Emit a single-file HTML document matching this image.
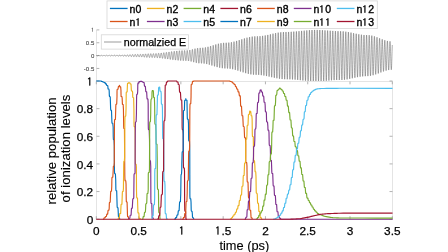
<!DOCTYPE html><html><head><meta charset="utf-8"><style>
html,body{margin:0;padding:0;background:#fff;overflow:hidden}
svg{display:block}
text{font-family:"Liberation Sans", Arial, Helvetica, sans-serif;fill:#000;stroke:#000;stroke-width:0.25px}
</style></head><body>
<svg width="448" height="252" viewBox="0 0 448 252">
<rect width="448" height="252" fill="#fff"/>
<g>
<line x1="96.5" y1="29.90" x2="96.5" y2="81.40" stroke="#e4e4e4" stroke-width="1"/>
<line x1="96.60" y1="29.90" x2="99.30" y2="29.90" stroke="#a0a0a0" stroke-width="0.8"/>
<line x1="96.60" y1="42.75" x2="99.30" y2="42.75" stroke="#a0a0a0" stroke-width="0.8"/>
<line x1="96.60" y1="55.60" x2="99.30" y2="55.60" stroke="#a0a0a0" stroke-width="0.8"/>
<line x1="96.60" y1="68.45" x2="99.30" y2="68.45" stroke="#a0a0a0" stroke-width="0.8"/>
<line x1="96.60" y1="81.30" x2="99.30" y2="81.30" stroke="#a0a0a0" stroke-width="0.8"/>
<polyline fill="none" stroke="#555555" stroke-width="0.48" points="96.30,55.40 96.37,55.41 96.45,55.43 96.52,55.45 96.60,55.48 96.67,55.51 96.74,55.55 96.82,55.58 96.89,55.62 96.97,55.66 97.04,55.69 97.11,55.72 97.19,55.75 97.26,55.77 97.34,55.79 97.41,55.80 97.48,55.81 97.56,55.81 97.63,55.80 97.71,55.78 97.78,55.76 97.85,55.74 97.93,55.71 98.00,55.67 98.08,55.64 98.15,55.60 98.22,55.56 98.30,55.53 98.37,55.49 98.45,55.46 98.52,55.43 98.59,55.41 98.67,55.40 98.74,55.39 98.82,55.38 98.89,55.39 98.96,55.40 99.04,55.42 99.11,55.44 99.19,55.47 99.26,55.50 99.33,55.54 99.41,55.58 99.48,55.62 99.56,55.66 99.63,55.69 99.70,55.73 99.78,55.76 99.85,55.79 99.93,55.81 100.00,55.82 100.07,55.83 100.15,55.83 100.22,55.82 100.30,55.81 100.37,55.78 100.44,55.76 100.52,55.72 100.59,55.69 100.67,55.65 100.74,55.61 100.81,55.56 100.89,55.52 100.96,55.48 101.04,55.45 101.11,55.41 101.18,55.39 101.26,55.37 101.33,55.36 101.41,55.35 101.48,55.36 101.55,55.37 101.63,55.39 101.70,55.41 101.78,55.44 101.85,55.48 101.92,55.52 102.00,55.57 102.07,55.61 102.15,55.66 102.22,55.70 102.29,55.75 102.37,55.78 102.44,55.82 102.52,55.84 102.59,55.86 102.66,55.87 102.74,55.87 102.81,55.86 102.89,55.85 102.96,55.82 103.03,55.79 103.11,55.75 103.18,55.71 103.26,55.66 103.33,55.61 103.40,55.56 103.48,55.51 103.55,55.46 103.63,55.42 103.70,55.38 103.77,55.35 103.85,55.33 103.92,55.31 104.00,55.30 104.07,55.31 104.14,55.32 104.22,55.34 104.29,55.37 104.37,55.41 104.44,55.45 104.51,55.50 104.59,55.55 104.66,55.61 104.74,55.66 104.81,55.72 104.88,55.77 104.96,55.82 105.03,55.86 105.11,55.89 105.18,55.91 105.25,55.92 105.33,55.93 105.40,55.92 105.48,55.90 105.55,55.87 105.62,55.84 105.70,55.79 105.77,55.74 105.85,55.68 105.92,55.62 105.99,55.56 106.07,55.50 106.14,55.44 106.22,55.39 106.29,55.34 106.36,55.30 106.44,55.27 106.51,55.25 106.59,55.24 106.66,55.24 106.73,55.25 106.81,55.28 106.88,55.31 106.96,55.36 107.03,55.41 107.10,55.47 107.18,55.53 107.25,55.60 107.33,55.67 107.40,55.74 107.47,55.80 107.55,55.85 107.62,55.90 107.70,55.94 107.77,55.97 107.84,55.99 107.92,55.99 107.99,55.99 108.07,55.97 108.14,55.94 108.21,55.89 108.29,55.84 108.36,55.78 108.44,55.71 108.51,55.64 108.58,55.57 108.66,55.49 108.73,55.42 108.81,55.36 108.88,55.30 108.95,55.25 109.03,55.21 109.10,55.18 109.18,55.17 109.25,55.17 109.32,55.19 109.40,55.21 109.47,55.25 109.55,55.31 109.62,55.37 109.69,55.44 109.77,55.51 109.84,55.59 109.92,55.67 109.99,55.75 110.06,55.82 110.14,55.89 110.21,55.95 110.29,56.00 110.36,56.03 110.43,56.06 110.51,56.06 110.58,56.06 110.66,56.04 110.73,56.00 110.80,55.95 110.88,55.89 110.95,55.82 111.03,55.74 111.10,55.66 111.17,55.57 111.25,55.49 111.32,55.40 111.40,55.33 111.47,55.26 111.54,55.20 111.62,55.15 111.69,55.12 111.77,55.10 111.84,55.10 111.91,55.12 111.99,55.15 112.06,55.19 112.14,55.25 112.21,55.32 112.28,55.40 112.36,55.49 112.43,55.58 112.51,55.67 112.58,55.76 112.65,55.85 112.73,55.92 112.80,55.99 112.88,56.05 112.95,56.09 113.02,56.12 113.10,56.13 113.17,56.12 113.25,56.10 113.32,56.06 113.39,56.01 113.47,55.94 113.54,55.86 113.62,55.77 113.69,55.68 113.76,55.58 113.84,55.48 113.91,55.39 113.99,55.30 114.06,55.22 114.13,55.16 114.21,55.10 114.28,55.07 114.36,55.04 114.43,55.04 114.50,55.06 114.58,55.09 114.65,55.14 114.73,55.20 114.80,55.28 114.87,55.36 114.95,55.46 115.02,55.56 115.10,55.66 115.17,55.76 115.24,55.86 115.32,55.95 115.39,56.03 115.47,56.09 115.54,56.14 115.61,56.17 115.69,56.18 115.76,56.18 115.84,56.16 115.91,56.11 115.98,56.06 116.06,55.98 116.13,55.90 116.21,55.80 116.28,55.70 116.35,55.59 116.43,55.49 116.50,55.38 116.58,55.29 116.65,55.20 116.72,55.13 116.80,55.07 116.87,55.02 116.95,55.00 117.02,54.99 117.09,55.01 117.17,55.04 117.24,55.09 117.32,55.16 117.39,55.24 117.46,55.33 117.54,55.44 117.61,55.54 117.69,55.65 117.76,55.76 117.83,55.87 117.91,55.96 117.98,56.05 118.06,56.12 118.13,56.17 118.20,56.21 118.28,56.22 118.35,56.22 118.43,56.20 118.50,56.15 118.57,56.09 118.65,56.02 118.72,55.93 118.80,55.83 118.87,55.72 118.94,55.61 119.02,55.50 119.09,55.39 119.17,55.28 119.24,55.19 119.31,55.11 119.39,55.05 119.46,55.00 119.54,54.97 119.61,54.96 119.68,54.98 119.76,55.01 119.83,55.06 119.91,55.13 119.98,55.21 120.05,55.31 120.13,55.41 120.20,55.53 120.28,55.64 120.35,55.75 120.42,55.86 120.50,55.96 120.57,56.05 120.65,56.12 120.72,56.18 120.79,56.22 120.87,56.24 120.94,56.24 121.02,56.22 121.09,56.18 121.16,56.12 121.24,56.04 121.31,55.95 121.39,55.85 121.46,55.74 121.53,55.62 121.61,55.51 121.68,55.40 121.76,55.29 121.83,55.20 121.90,55.11 121.98,55.05 122.05,55.00 122.13,54.97 122.20,54.96 122.27,54.97 122.35,55.00 122.42,55.05 122.50,55.11 122.57,55.19 122.64,55.29 122.72,55.40 122.79,55.51 122.87,55.63 122.94,55.74 123.01,55.85 123.09,55.96 123.16,56.05 123.24,56.13 123.31,56.19 123.38,56.23 123.46,56.26 123.53,56.26 123.61,56.24 123.68,56.20 123.75,56.14 123.83,56.07 123.90,55.98 123.98,55.87 124.05,55.76 124.12,55.64 124.20,55.52 124.27,55.40 124.35,55.29 124.42,55.19 124.49,55.09 124.57,55.02 124.64,54.96 124.72,54.92 124.79,54.91 124.86,54.91 124.94,54.94 125.01,54.99 125.09,55.06 125.16,55.14 125.23,55.25 125.31,55.36 125.38,55.48 125.46,55.61 125.53,55.74 125.60,55.86 125.68,55.98 125.75,56.09 125.83,56.18 125.90,56.25 125.97,56.31 126.05,56.34 126.12,56.35 126.20,56.33 126.27,56.29 126.34,56.23 126.42,56.15 126.49,56.05 126.57,55.93 126.64,55.80 126.71,55.67 126.79,55.53 126.86,55.39 126.94,55.26 127.01,55.14 127.08,55.03 127.16,54.94 127.23,54.87 127.31,54.82 127.38,54.79 127.45,54.80 127.53,54.82 127.60,54.88 127.68,54.95 127.75,55.05 127.82,55.17 127.90,55.30 127.97,55.44 128.05,55.59 128.12,55.74 128.19,55.89 128.27,56.03 128.34,56.16 128.42,56.27 128.49,56.36 128.56,56.43 128.64,56.47 128.71,56.48 128.79,56.47 128.86,56.42 128.93,56.35 129.01,56.26 129.08,56.14 129.16,56.01 129.23,55.86 129.30,55.70 129.38,55.54 129.45,55.37 129.53,55.22 129.60,55.07 129.67,54.94 129.75,54.83 129.82,54.74 129.90,54.68 129.97,54.65 130.04,54.65 130.12,54.68 130.19,54.73 130.27,54.82 130.34,54.94 130.41,55.07 130.49,55.22 130.56,55.39 130.64,55.57 130.71,55.74 130.78,55.92 130.86,56.09 130.93,56.24 131.01,56.37 131.08,56.48 131.15,56.56 131.23,56.61 131.30,56.63 131.38,56.62 131.45,56.57 131.52,56.50 131.60,56.39 131.67,56.26 131.75,56.10 131.82,55.93 131.89,55.74 131.97,55.55 132.04,55.36 132.12,55.18 132.19,55.01 132.26,54.85 132.34,54.72 132.41,54.62 132.49,54.54 132.56,54.50 132.63,54.50 132.71,54.53 132.78,54.59 132.86,54.69 132.93,54.82 133.00,54.97 133.08,55.14 133.15,55.33 133.23,55.53 133.30,55.74 133.37,55.94 133.45,56.13 133.52,56.30 133.60,56.46 133.67,56.59 133.74,56.68 133.82,56.74 133.89,56.77 133.97,56.76 134.04,56.71 134.11,56.63 134.19,56.51 134.26,56.36 134.34,56.19 134.41,56.00 134.48,55.79 134.56,55.58 134.63,55.36 134.71,55.16 134.78,54.96 134.85,54.79 134.93,54.64 135.00,54.52 135.08,54.44 135.15,54.39 135.22,54.38 135.30,54.41 135.37,54.48 135.45,54.58 135.52,54.72 135.59,54.88 135.67,55.07 135.74,55.28 135.82,55.50 135.89,55.72 135.96,55.94 136.04,56.15 136.11,56.34 136.19,56.51 136.26,56.65 136.33,56.76 136.41,56.83 136.48,56.86 136.56,56.85 136.63,56.80 136.70,56.71 136.78,56.59 136.85,56.44 136.93,56.25 137.00,56.05 137.07,55.83 137.15,55.61 137.22,55.38 137.30,55.16 137.37,54.95 137.44,54.77 137.52,54.61 137.59,54.48 137.67,54.39 137.74,54.33 137.81,54.32 137.89,54.35 137.96,54.41 138.04,54.52 138.11,54.66 138.18,54.83 138.26,55.03 138.33,55.24 138.41,55.46 138.48,55.69 138.55,55.92 138.63,56.14 138.70,56.34 138.78,56.51 138.85,56.66 138.92,56.77 139.00,56.85 139.07,56.88 139.15,56.88 139.22,56.84 139.29,56.75 139.37,56.63 139.44,56.48 139.52,56.29 139.59,56.09 139.66,55.87 139.74,55.64 139.81,55.41 139.89,55.18 139.96,54.97 140.03,54.77 140.11,54.60 140.18,54.46 140.26,54.36 140.33,54.30 140.40,54.28 140.48,54.30 140.55,54.36 140.63,54.46 140.70,54.60 140.77,54.77 140.85,54.97 140.92,55.19 141.00,55.42 141.07,55.67 141.14,55.91 141.22,56.14 141.29,56.35 141.37,56.55 141.44,56.71 141.51,56.84 141.59,56.93 141.66,56.98 141.74,56.99 141.81,56.95 141.88,56.86 141.96,56.74 142.03,56.58 142.11,56.39 142.18,56.17 142.25,55.93 142.33,55.68 142.40,55.42 142.48,55.17 142.55,54.93 142.62,54.71 142.70,54.51 142.77,54.35 142.85,54.23 142.92,54.15 142.99,54.12 143.07,54.13 143.14,54.19 143.22,54.30 143.29,54.45 143.36,54.64 143.44,54.86 143.51,55.10 143.59,55.36 143.66,55.64 143.73,55.91 143.81,56.18 143.88,56.43 143.96,56.65 144.03,56.84 144.10,57.00 144.18,57.11 144.25,57.17 144.33,57.19 144.40,57.15 144.47,57.06 144.55,56.93 144.62,56.75 144.70,56.53 144.77,56.29 144.84,56.01 144.92,55.73 144.99,55.43 145.07,55.14 145.14,54.86 145.21,54.61 145.29,54.38 145.36,54.19 145.44,54.05 145.51,53.95 145.58,53.90 145.66,53.91 145.73,53.98 145.81,54.09 145.88,54.26 145.95,54.47 146.03,54.71 146.10,54.99 146.18,55.29 146.25,55.60 146.32,55.91 146.40,56.22 146.47,56.50 146.55,56.76 146.62,56.99 146.69,57.17 146.77,57.30 146.84,57.38 146.92,57.40 146.99,57.36 147.06,57.27 147.14,57.12 147.21,56.92 147.29,56.69 147.36,56.41 147.43,56.11 147.51,55.79 147.58,55.46 147.66,55.13 147.73,54.82 147.80,54.53 147.88,54.28 147.95,54.06 148.03,53.90 148.10,53.79 148.17,53.73 148.25,53.74 148.32,53.80 148.40,53.93 148.47,54.10 148.54,54.33 148.62,54.59 148.69,54.89 148.77,55.22 148.84,55.55 148.91,55.89 148.99,56.22 149.06,56.53 149.14,56.82 149.21,57.06 149.28,57.26 149.36,57.40 149.43,57.49 149.51,57.52 149.58,57.48 149.65,57.39 149.73,57.24 149.80,57.03 149.88,56.78 149.95,56.49 150.02,56.18 150.10,55.84 150.17,55.50 150.25,55.16 150.32,54.83 150.39,54.53 150.47,54.26 150.54,54.04 150.62,53.86 150.69,53.74 150.76,53.68 150.84,53.68 150.91,53.74 150.99,53.86 151.06,54.04 151.13,54.26 151.21,54.53 151.28,54.84 151.36,55.16 151.43,55.51 151.50,55.85 151.58,56.19 151.65,56.51 151.73,56.80 151.80,57.05 151.87,57.26 151.95,57.41 152.02,57.51 152.10,57.54 152.17,57.52 152.24,57.43 152.32,57.29 152.39,57.09 152.47,56.84 152.54,56.55 152.61,56.23 152.69,55.89 152.76,55.54 152.84,55.19 152.91,54.86 152.98,54.55 153.06,54.26 153.13,54.03 153.21,53.84 153.28,53.70 153.35,53.63 153.43,53.62 153.50,53.67 153.58,53.79 153.65,53.96 153.72,54.19 153.80,54.46 153.87,54.77 153.95,55.10 154.02,55.45 154.09,55.81 154.17,56.17 154.24,56.50 154.32,56.81 154.39,57.08 154.46,57.31 154.54,57.48 154.61,57.59 154.69,57.64 154.76,57.62 154.83,57.54 154.91,57.40 154.98,57.20 155.06,56.94 155.13,56.65 155.20,56.31 155.28,55.96 155.35,55.59 155.43,55.22 155.50,54.86 155.57,54.52 155.65,54.22 155.72,53.96 155.80,53.75 155.87,53.59 155.94,53.50 156.02,53.48 156.09,53.53 156.17,53.64 156.24,53.81 156.31,54.05 156.39,54.33 156.46,54.66 156.54,55.01 156.61,55.39 156.68,55.78 156.76,56.16 156.83,56.53 156.91,56.87 156.98,57.17 157.05,57.42 157.13,57.61 157.20,57.75 157.28,57.81 157.35,57.80 157.42,57.73 157.50,57.58 157.57,57.37 157.65,57.10 157.72,56.79 157.79,56.43 157.87,56.05 157.94,55.64 158.02,55.24 158.09,54.84 158.16,54.47 158.24,54.13 158.31,53.83 158.39,53.59 158.46,53.42 158.53,53.31 158.61,53.27 158.68,53.31 158.76,53.42 158.83,53.60 158.90,53.85 158.98,54.15 159.05,54.51 159.13,54.90 159.20,55.31 159.27,55.74 159.35,56.16 159.42,56.57 159.50,56.95 159.57,57.29 159.64,57.58 159.72,57.81 159.79,57.96 159.87,58.05 159.94,58.05 160.01,57.98 160.09,57.83 160.16,57.61 160.24,57.32 160.31,56.97 160.38,56.58 160.46,56.16 160.53,55.71 160.61,55.26 160.68,54.81 160.75,54.39 160.83,54.01 160.90,53.67 160.98,53.39 161.05,53.18 161.12,53.05 161.20,53.00 161.27,53.03 161.35,53.14 161.42,53.33 161.49,53.60 161.57,53.93 161.64,54.32 161.72,54.75 161.79,55.21 161.86,55.69 161.94,56.17 162.01,56.63 162.09,57.06 162.16,57.45 162.23,57.78 162.31,58.05 162.38,58.23 162.46,58.34 162.53,58.36 162.60,58.29 162.68,58.13 162.75,57.89 162.83,57.58 162.90,57.20 162.97,56.76 163.05,56.29 163.12,55.79 163.20,55.28 163.27,54.78 163.34,54.30 163.42,53.86 163.49,53.48 163.57,53.16 163.64,52.91 163.71,52.75 163.79,52.68 163.86,52.70 163.94,52.81 164.01,53.02 164.08,53.31 164.16,53.67 164.23,54.10 164.31,54.58 164.38,55.09 164.45,55.63 164.53,56.17 164.60,56.69 164.68,57.18 164.75,57.62 164.82,58.01 164.90,58.31 164.97,58.54 165.05,58.67 165.12,58.70 165.19,58.63 165.27,58.47 165.34,58.21 165.42,57.87 165.49,57.45 165.56,56.98 165.64,56.45 165.71,55.89 165.79,55.32 165.86,54.76 165.93,54.22 166.01,53.72 166.08,53.27 166.16,52.90 166.23,52.61 166.30,52.42 166.38,52.33 166.45,52.34 166.53,52.45 166.60,52.67 166.67,52.98 166.75,53.38 166.82,53.85 166.90,54.38 166.97,54.95 167.04,55.55 167.12,56.15 167.19,56.74 167.27,57.30 167.34,57.80 167.41,58.24 167.49,58.59 167.56,58.86 167.64,59.01 167.71,59.07 167.78,59.01 167.86,58.84 167.93,58.56 168.01,58.19 168.08,57.74 168.15,57.21 168.23,56.63 168.30,56.01 168.38,55.38 168.45,54.75 168.52,54.14 168.60,53.57 168.67,53.07 168.75,52.65 168.82,52.31 168.89,52.08 168.97,51.97 169.04,51.96 169.12,52.08 169.19,52.30 169.26,52.64 169.34,53.07 169.41,53.58 169.49,54.16 169.56,54.80 169.63,55.46 169.71,56.12 169.78,56.78 169.86,57.40 169.93,57.97 170.00,58.46 170.08,58.87 170.15,59.17 170.23,59.36 170.30,59.43 170.37,59.38 170.45,59.21 170.52,58.92 170.60,58.52 170.67,58.03 170.74,57.46 170.82,56.82 170.89,56.15 170.97,55.45 171.04,54.75 171.11,54.08 171.19,53.45 171.26,52.89 171.34,52.41 171.41,52.03 171.48,51.76 171.56,51.61 171.63,51.60 171.71,51.71 171.78,51.94 171.85,52.29 171.93,52.75 172.00,53.31 172.08,53.94 172.15,54.62 172.22,55.34 172.30,56.08 172.37,56.80 172.45,57.48 172.52,58.11 172.59,58.66 172.67,59.12 172.74,59.46 172.82,59.69 172.89,59.78 172.96,59.74 173.04,59.57 173.11,59.27 173.19,58.85 173.26,58.33 173.33,57.71 173.41,57.03 173.48,56.30 173.56,55.54 173.63,54.78 173.70,54.04 173.78,53.35 173.85,52.73 173.93,52.20 174.00,51.77 174.07,51.47 174.15,51.29 174.22,51.26 174.30,51.36 174.37,51.59 174.44,51.96 174.52,52.45 174.59,53.03 174.67,53.71 174.74,54.44 174.81,55.22 174.89,56.01 174.96,56.79 175.04,57.53 175.11,58.22 175.18,58.83 175.26,59.33 175.33,59.72 175.41,59.98 175.48,60.09 175.55,60.07 175.63,59.90 175.70,59.60 175.78,59.16 175.85,58.61 175.92,57.96 176.00,57.24 176.07,56.46 176.15,55.64 176.22,54.83 176.29,54.03 176.37,53.29 176.44,52.61 176.52,52.03 176.59,51.56 176.66,51.22 176.74,51.02 176.81,50.96 176.89,51.05 176.96,51.29 177.03,51.66 177.11,52.16 177.18,52.78 177.26,53.48 177.33,54.26 177.40,55.08 177.48,55.92 177.55,56.75 177.63,57.55 177.70,58.29 177.77,58.94 177.85,59.49 177.92,59.92 178.00,60.21 178.07,60.35 178.14,60.35 178.22,60.19 178.29,59.88 178.37,59.44 178.44,58.87 178.51,58.19 178.59,57.44 178.66,56.62 178.74,55.76 178.81,54.90 178.88,54.06 178.96,53.27 179.03,52.55 179.11,51.92 179.18,51.41 179.25,51.03 179.33,50.80 179.40,50.72 179.48,50.80 179.55,51.03 179.62,51.40 179.70,51.92 179.77,52.55 179.85,53.28 179.92,54.08 179.99,54.94 180.07,55.81 180.14,56.69 180.22,57.53 180.29,58.31 180.36,59.00 180.44,59.59 180.51,60.06 180.59,60.38 180.66,60.54 180.73,60.56 180.81,60.41 180.88,60.11 180.96,59.66 181.03,59.09 181.10,58.40 181.18,57.62 181.25,56.77 181.33,55.89 181.40,55.00 181.47,54.12 181.55,53.29 181.62,52.53 181.70,51.87 181.77,51.33 181.84,50.92 181.92,50.66 181.99,50.56 182.07,50.62 182.14,50.84 182.21,51.21 182.29,51.72 182.36,52.36 182.44,53.10 182.51,53.92 182.58,54.79 182.66,55.70 182.73,56.60 182.81,57.47 182.88,58.28 182.95,59.01 183.03,59.63 183.10,60.12 183.18,60.47 183.25,60.66 183.32,60.69 183.40,60.56 183.47,60.27 183.55,59.83 183.62,59.25 183.69,58.56 183.77,57.78 183.84,56.92 183.92,56.02 183.99,55.11 184.06,54.21 184.14,53.35 184.21,52.57 184.29,51.88 184.36,51.31 184.43,50.88 184.51,50.60 184.58,50.48 184.66,50.52 184.73,50.72 184.80,51.08 184.88,51.58 184.95,52.21 185.03,52.95 185.10,53.78 185.17,54.66 185.25,55.58 185.32,56.49 185.40,57.38 185.47,58.21 185.54,58.95 185.62,59.59 185.69,60.10 185.77,60.47 185.84,60.69 185.91,60.74 185.99,60.62 186.06,60.35 186.14,59.93 186.21,59.37 186.28,58.68 186.36,57.90 186.43,57.05 186.51,56.15 186.58,55.23 186.65,54.32 186.73,53.45 186.80,52.65 186.88,51.94 186.95,51.34 187.02,50.89 187.10,50.58 187.17,50.43 187.25,50.44 187.32,50.62 187.39,50.96 187.47,51.44 187.54,52.07 187.62,52.80 187.69,53.63 187.76,54.52 187.84,55.45 187.91,56.38 187.99,57.30 188.06,58.16 188.13,58.95 188.21,59.63 188.28,60.18 188.36,60.60 188.43,60.85 188.50,60.94 188.58,60.85 188.65,60.60 188.73,60.19 188.80,59.63 188.87,58.94 188.95,58.14 189.02,57.25 189.10,56.31 189.17,55.34 189.24,54.37 189.32,53.44 189.39,52.57 189.47,51.80 189.54,51.14 189.61,50.62 189.69,50.26 189.76,50.06 189.84,50.04 189.91,50.20 189.98,50.54 190.06,51.03 190.13,51.68 190.21,52.45 190.28,53.33 190.35,54.29 190.43,55.30 190.50,56.32 190.58,57.32 190.65,58.28 190.72,59.15 190.80,59.92 190.87,60.55 190.95,61.03 191.02,61.34 191.09,61.47 191.17,61.41 191.24,61.16 191.32,60.74 191.39,60.15 191.46,59.40 191.54,58.53 191.61,57.57 191.69,56.53 191.76,55.45 191.83,54.38 191.91,53.33 191.98,52.35 192.06,51.47 192.13,50.72 192.20,50.11 192.28,49.68 192.35,49.44 192.43,49.39 192.50,49.53 192.57,49.88 192.65,50.41 192.72,51.11 192.80,51.95 192.87,52.92 192.94,53.99 193.02,55.11 193.09,56.25 193.17,57.38 193.24,58.46 193.31,59.46 193.39,60.34 193.46,61.07 193.54,61.63 193.61,62.00 193.68,62.17 193.76,62.13 193.83,61.89 193.91,61.43 193.98,60.79 194.05,59.98 194.13,59.03 194.20,57.95 194.28,56.80 194.35,55.60 194.42,54.39 194.50,53.22 194.57,52.11 194.65,51.11 194.72,50.25 194.79,49.55 194.87,49.05 194.94,48.75 195.02,48.67 195.09,48.81 195.16,49.16 195.24,49.73 195.31,50.49 195.39,51.41 195.46,52.48 195.53,53.64 195.61,54.88 195.68,56.15 195.76,57.40 195.83,58.61 195.90,59.72 195.98,60.71 196.05,61.54 196.13,62.18 196.20,62.61 196.27,62.82 196.35,62.81 196.42,62.56 196.50,62.08 196.57,61.40 196.64,60.53 196.72,59.50 196.79,58.34 196.87,57.08 196.94,55.78 197.01,54.46 197.09,53.18 197.16,51.96 197.24,50.86 197.31,49.91 197.38,49.14 197.46,48.57 197.53,48.22 197.61,48.11 197.68,48.24 197.75,48.60 197.83,49.19 197.90,49.98 197.98,50.96 198.05,52.09 198.12,53.33 198.20,54.65 198.27,56.00 198.35,57.35 198.42,58.64 198.49,59.83 198.57,60.89 198.64,61.79 198.72,62.49 198.79,62.97 198.86,63.22 198.94,63.22 199.01,62.98 199.09,62.50 199.16,61.80 199.23,60.91 199.31,59.84 199.38,58.63 199.46,57.33 199.53,55.97 199.60,54.60 199.68,53.26 199.75,51.99 199.83,50.84 199.90,49.83 199.97,49.01 200.05,48.41 200.12,48.03 200.20,47.89 200.27,48.00 200.34,48.35 200.42,48.94 200.49,49.73 200.57,50.71 200.64,51.85 200.71,53.11 200.79,54.45 200.86,55.82 200.94,57.19 201.01,58.51 201.08,59.74 201.16,60.83 201.23,61.76 201.31,62.50 201.38,63.01 201.45,63.29 201.53,63.32 201.60,63.11 201.68,62.66 201.75,61.98 201.82,61.10 201.90,60.04 201.97,58.84 202.05,57.53 202.12,56.16 202.19,54.77 202.27,53.41 202.34,52.11 202.42,50.93 202.49,49.89 202.56,49.03 202.64,48.38 202.71,47.95 202.79,47.78 202.86,47.85 202.93,48.16 203.01,48.72 203.08,49.50 203.16,50.47 203.23,51.61 203.30,52.88 203.38,54.23 203.45,55.64 203.53,57.04 203.60,58.41 203.67,59.69 203.75,60.83 203.82,61.82 203.90,62.61 203.97,63.18 204.04,63.51 204.12,63.58 204.19,63.40 204.27,62.97 204.34,62.31 204.41,61.43 204.49,60.36 204.56,59.14 204.64,57.79 204.71,56.38 204.78,54.94 204.86,53.51 204.93,52.14 205.01,50.89 205.08,49.77 205.15,48.84 205.23,48.13 205.30,47.65 205.38,47.42 205.45,47.45 205.52,47.74 205.60,48.29 205.67,49.07 205.75,50.06 205.82,51.23 205.89,52.55 205.97,53.96 206.04,55.44 206.12,56.93 206.19,58.37 206.26,59.74 206.34,60.98 206.41,62.05 206.49,62.92 206.56,63.56 206.63,63.95 206.71,64.07 206.78,63.92 206.86,63.51 206.93,62.84 207.00,61.94 207.08,60.83 207.15,59.55 207.23,58.14 207.30,56.64 207.37,55.10 207.45,53.57 207.52,52.10 207.60,50.74 207.67,49.52 207.74,48.50 207.82,47.69 207.89,47.14 207.97,46.85 208.04,46.84 208.11,47.12 208.19,47.66 208.26,48.46 208.34,49.49 208.41,50.73 208.48,52.12 208.56,53.63 208.63,55.21 208.71,56.81 208.78,58.38 208.85,59.87 208.93,61.22 209.00,62.41 209.08,63.38 209.15,64.11 209.22,64.57 209.30,64.74 209.37,64.62 209.45,64.22 209.52,63.53 209.59,62.59 209.67,61.43 209.74,60.07 209.82,58.56 209.89,56.95 209.96,55.28 210.04,53.63 210.11,52.02 210.19,50.52 210.26,49.18 210.33,48.04 210.41,47.13 210.48,46.49 210.56,46.14 210.63,46.09 210.70,46.34 210.78,46.89 210.85,47.72 210.93,48.81 211.00,50.12 211.07,51.61 211.15,53.23 211.22,54.94 211.30,56.68 211.37,58.39 211.44,60.02 211.52,61.52 211.59,62.83 211.67,63.92 211.74,64.75 211.81,65.29 211.89,65.52 211.96,65.44 212.04,65.04 212.11,64.33 212.18,63.35 212.26,62.11 212.33,60.66 212.41,59.04 212.48,57.30 212.55,55.50 212.63,53.70 212.70,51.94 212.78,50.30 212.85,48.82 212.92,47.54 213.00,46.52 213.07,45.79 213.15,45.36 213.22,45.26 213.29,45.50 213.37,46.05 213.44,46.91 213.52,48.06 213.59,49.45 213.66,51.04 213.74,52.79 213.81,54.63 213.89,56.52 213.96,58.38 214.03,60.16 214.11,61.81 214.18,63.26 214.26,64.47 214.33,65.41 214.40,66.03 214.48,66.33 214.55,66.28 214.63,65.89 214.70,65.18 214.77,64.15 214.85,62.84 214.92,61.30 215.00,59.57 215.07,57.70 215.14,55.76 215.22,53.80 215.29,51.90 215.37,50.11 215.44,48.48 215.51,47.07 215.59,45.94 215.66,45.10 215.74,44.60 215.81,44.45 215.88,44.65 215.96,45.21 216.03,46.10 216.11,47.29 216.18,48.76 216.25,50.45 216.33,52.31 216.40,54.29 216.48,56.31 216.55,58.32 216.62,60.25 216.70,62.04 216.77,63.63 216.85,64.96 216.92,66.01 216.99,66.72 217.07,67.08 217.14,67.08 217.22,66.71 217.29,65.98 217.36,64.92 217.44,63.55 217.51,61.93 217.59,60.10 217.66,58.12 217.73,56.05 217.81,53.96 217.88,51.92 217.96,49.99 218.03,48.23 218.10,46.70 218.18,45.44 218.25,44.52 218.33,43.94 218.40,43.73 218.47,43.90 218.55,44.45 218.62,45.35 218.70,46.58 218.77,48.11 218.84,49.88 218.92,51.84 218.99,53.92 219.07,56.07 219.14,58.20 219.21,60.26 219.29,62.17 219.36,63.88 219.44,65.33 219.51,66.48 219.58,67.27 219.66,67.70 219.73,67.74 219.81,67.40 219.88,66.67 219.95,65.60 220.03,64.19 220.10,62.51 220.18,60.61 220.25,58.54 220.32,56.37 220.40,54.17 220.47,52.02 220.55,49.97 220.62,48.10 220.69,46.46 220.77,45.11 220.84,44.09 220.92,43.44 220.99,43.18 221.06,43.31 221.14,43.83 221.21,44.74 221.29,45.99 221.36,47.55 221.43,49.37 221.51,51.39 221.58,53.55 221.66,55.78 221.73,58.01 221.80,60.17 221.88,62.18 221.95,63.99 222.03,65.53 222.10,66.76 222.17,67.63 222.25,68.12 222.32,68.21 222.40,67.90 222.47,67.20 222.54,66.12 222.62,64.71 222.69,63.00 222.77,61.06 222.84,58.93 222.91,56.70 222.99,54.43 223.06,52.20 223.14,50.07 223.21,48.12 223.28,46.40 223.36,44.97 223.43,43.89 223.51,43.17 223.58,42.85 223.65,42.94 223.73,43.43 223.80,44.31 223.88,45.55 223.95,47.12 224.02,48.95 224.10,51.00 224.17,53.20 224.25,55.48 224.32,57.76 224.39,59.97 224.47,62.05 224.54,63.92 224.62,65.52 224.69,66.81 224.76,67.75 224.84,68.29 224.91,68.43 224.99,68.16 225.06,67.49 225.13,66.44 225.21,65.05 225.28,63.35 225.36,61.41 225.43,59.27 225.50,57.03 225.58,54.73 225.65,52.46 225.73,50.30 225.80,48.30 225.87,46.54 225.95,45.06 226.02,43.92 226.10,43.15 226.17,42.78 226.24,42.82 226.32,43.26 226.39,44.10 226.47,45.31 226.54,46.84 226.61,48.65 226.69,50.69 226.76,52.88 226.84,55.16 226.91,57.46 226.98,59.70 227.06,61.81 227.13,63.72 227.21,65.37 227.28,66.71 227.35,67.70 227.43,68.31 227.50,68.51 227.58,68.29 227.65,67.68 227.72,66.67 227.80,65.32 227.87,63.65 227.95,61.72 228.02,59.60 228.09,57.35 228.17,55.04 228.24,52.74 228.32,50.54 228.39,48.49 228.46,46.67 228.54,45.13 228.61,43.92 228.69,43.09 228.76,42.65 228.83,42.63 228.91,43.02 228.98,43.81 229.06,44.98 229.13,46.48 229.20,48.29 229.28,50.32 229.35,52.53 229.43,54.84 229.50,57.18 229.57,59.47 229.65,61.64 229.72,63.62 229.80,65.35 229.87,66.77 229.94,67.83 230.02,68.51 230.09,68.77 230.17,68.62 230.24,68.05 230.31,67.08 230.39,65.74 230.46,64.08 230.54,62.15 230.61,60.00 230.68,57.71 230.76,55.34 230.83,52.98 230.91,50.70 230.98,48.57 231.05,46.67 231.13,45.04 231.20,43.74 231.28,42.83 231.35,42.32 231.42,42.23 231.50,42.57 231.57,43.32 231.65,44.47 231.72,45.97 231.79,47.79 231.87,49.86 231.94,52.12 232.02,54.49 232.09,56.91 232.16,59.28 232.24,61.55 232.31,63.63 232.39,65.46 232.46,66.98 232.53,68.14 232.61,68.90 232.68,69.24 232.76,69.14 232.83,68.61 232.90,67.67 232.98,66.33 233.05,64.66 233.13,62.68 233.20,60.48 233.27,58.12 233.35,55.67 233.42,53.21 233.50,50.82 233.57,48.58 233.64,46.55 233.72,44.81 233.79,43.41 233.87,42.40 233.94,41.80 234.01,41.65 234.09,41.93 234.16,42.66 234.24,43.80 234.31,45.32 234.38,47.17 234.46,49.30 234.53,51.63 234.61,54.10 234.68,56.62 234.75,59.12 234.83,61.51 234.90,63.72 234.98,65.68 235.05,67.31 235.12,68.58 235.20,69.44 235.27,69.86 235.35,69.83 235.42,69.34 235.49,68.41 235.57,67.07 235.64,65.35 235.72,63.33 235.79,61.05 235.86,58.58 235.94,56.02 236.01,53.43 236.09,50.91 236.16,48.53 236.23,46.37 236.31,44.49 236.38,42.97 236.46,41.84 236.53,41.15 236.60,40.92 236.68,41.16 236.75,41.86 236.83,43.00 236.90,44.55 236.97,46.45 237.05,48.65 237.12,51.08 237.20,53.67 237.27,56.32 237.34,58.96 237.42,61.50 237.49,63.85 237.57,65.96 237.64,67.73 237.71,69.13 237.79,70.10 237.86,70.60 237.94,70.63 238.01,70.18 238.08,69.26 238.16,67.91 238.23,66.15 238.31,64.06 238.38,61.68 238.45,59.11 238.53,56.41 238.60,53.68 238.68,51.01 238.75,48.47 238.82,46.15 238.90,44.12 238.97,42.46 239.05,41.21 239.12,40.42 239.19,40.11 239.27,40.29 239.34,40.96 239.42,42.11 239.49,43.68 239.56,45.65 239.64,47.93 239.71,50.47 239.79,53.18 239.86,55.98 239.93,58.77 240.01,61.47 240.08,63.99 240.16,66.25 240.23,68.18 240.30,69.71 240.38,70.80 240.45,71.40 240.53,71.50 240.60,71.09 240.67,70.19 240.75,68.82 240.82,67.02 240.90,64.85 240.97,62.38 241.04,59.68 241.12,56.85 241.19,53.96 241.27,51.12 241.34,48.42 241.41,45.94 241.49,43.75 241.56,41.94 241.64,40.56 241.71,39.66 241.78,39.26 241.86,39.39 241.93,40.03 242.01,41.17 242.08,42.78 242.15,44.80 242.23,47.17 242.30,49.82 242.38,52.66 242.45,55.60 242.52,58.55 242.60,61.42 242.67,64.11 242.75,66.53 242.82,68.61 242.89,70.28 242.97,71.49 243.04,72.20 243.12,72.37 243.19,72.01 243.26,71.13 243.34,69.74 243.41,67.91 243.49,65.67 243.56,63.10 243.63,60.29 243.71,57.32 243.78,54.29 243.86,51.29 243.93,48.42 244.00,45.77 244.08,43.43 244.15,41.47 244.23,39.95 244.30,38.94 244.37,38.45 244.45,38.51 244.52,39.11 244.60,40.25 244.67,41.87 244.74,43.94 244.82,46.39 244.89,49.14 244.97,52.10 245.04,55.18 245.11,58.28 245.19,61.31 245.26,64.16 245.34,66.74 245.41,68.97 245.48,70.79 245.56,72.12 245.63,72.93 245.71,73.18 245.78,72.88 245.85,72.02 245.93,70.64 246.00,68.77 246.08,66.48 246.15,63.83 246.22,60.92 246.30,57.83 246.37,54.66 246.45,51.51 246.52,48.48 246.59,45.68 246.67,43.19 246.74,41.08 246.82,39.44 246.89,38.31 246.96,37.73 247.04,37.72 247.11,38.28 247.19,39.39 247.26,41.02 247.33,43.13 247.41,45.63 247.48,48.46 247.56,51.52 247.63,54.72 247.70,57.96 247.78,61.13 247.85,64.12 247.93,66.85 248.00,69.23 248.07,71.17 248.15,72.63 248.22,73.54 248.30,73.88 248.37,73.64 248.44,72.82 248.52,71.45 248.59,69.57 248.67,67.24 248.74,64.53 248.81,61.54 248.89,58.35 248.96,55.07 249.04,51.79 249.11,48.64 249.18,45.70 249.26,43.07 249.33,40.83 249.41,39.07 249.48,37.83 249.55,37.15 249.63,37.07 249.70,37.57 249.78,38.65 249.85,40.27 249.92,42.39 250.00,44.93 250.07,47.82 250.15,50.95 250.22,54.25 250.29,57.59 250.37,60.87 250.44,63.98 250.52,66.84 250.59,69.34 250.66,71.40 250.74,72.97 250.81,73.98 250.89,74.40 250.96,74.23 251.03,73.46 251.11,72.12 251.18,70.25 251.26,67.91 251.33,65.18 251.40,62.13 251.48,58.87 251.55,55.51 251.63,52.14 251.70,48.88 251.77,45.83 251.85,43.09 251.92,40.75 252.00,38.88 252.07,37.53 252.14,36.77 252.22,36.60 252.29,37.04 252.37,38.08 252.44,39.67 252.51,41.77 252.59,44.32 252.66,47.23 252.74,50.41 252.81,53.76 252.88,57.17 252.96,60.53 253.03,63.74 253.11,66.69 253.18,69.29 253.25,71.45 253.33,73.11 253.40,74.21 253.48,74.72 253.55,74.62 253.62,73.91 253.70,72.62 253.77,70.78 253.85,68.46 253.92,65.73 253.99,62.67 254.07,59.38 254.14,55.97 254.22,52.55 254.29,49.22 254.36,46.10 254.44,43.27 254.51,40.84 254.59,38.88 254.66,37.45 254.73,36.60 254.81,36.36 254.88,36.73 254.96,37.70 255.03,39.24 255.10,41.31 255.18,43.83 255.25,46.73 255.33,49.91 255.40,53.28 255.47,56.72 255.55,60.12 255.62,63.38 255.70,66.39 255.77,69.06 255.84,71.30 255.92,73.04 255.99,74.22 256.07,74.81 256.14,74.79 256.21,74.15 256.29,72.92 256.36,71.14 256.44,68.86 256.51,66.16 256.58,63.13 256.66,59.85 256.73,56.44 256.81,53.00 256.88,49.64 256.95,46.47 257.03,43.60 257.10,41.10 257.18,39.07 257.25,37.56 257.32,36.63 257.40,36.31 257.47,36.59 257.55,37.49 257.62,38.96 257.69,40.97 257.77,43.44 257.84,46.30 257.92,49.45 257.99,52.81 258.06,56.25 258.14,59.68 258.21,62.97 258.29,66.04 258.36,68.77 258.43,71.08 258.51,72.90 258.58,74.17 258.66,74.84 258.73,74.91 258.80,74.35 258.88,73.20 258.95,71.49 259.03,69.27 259.10,66.61 259.17,63.60 259.25,60.33 259.32,56.91 259.40,53.45 259.47,50.05 259.54,46.83 259.62,43.88 259.69,41.31 259.77,39.19 259.84,37.59 259.91,36.57 259.99,36.15 260.06,36.36 260.14,37.17 260.21,38.58 260.28,40.53 260.36,42.96 260.43,45.80 260.51,48.95 260.58,52.31 260.65,55.79 260.73,59.26 260.80,62.62 260.88,65.75 260.95,68.57 261.02,70.97 261.10,72.88 261.17,74.25 261.25,75.02 261.32,75.17 261.39,74.70 261.47,73.62 261.54,71.96 261.62,69.78 261.69,67.15 261.76,64.14 261.84,60.86 261.91,57.40 261.99,53.89 262.06,50.43 262.13,47.13 262.21,44.09 262.28,41.42 262.36,39.20 262.43,37.50 262.50,36.37 262.58,35.86 262.65,35.98 262.73,36.72 262.80,38.07 262.87,39.98 262.95,42.38 263.02,45.22 263.10,48.38 263.17,51.79 263.24,55.31 263.32,58.85 263.39,62.29 263.47,65.52 263.54,68.44 263.61,70.95 263.69,72.98 263.76,74.45 263.84,75.33 263.91,75.57 263.98,75.18 264.06,74.16 264.13,72.55 264.21,70.40 264.28,67.77 264.35,64.75 264.43,61.43 264.50,57.92 264.58,54.34 264.65,50.79 264.72,47.39 264.80,44.24 264.87,41.46 264.95,39.12 265.02,37.30 265.09,36.07 265.17,35.46 265.24,35.49 265.32,36.16 265.39,37.45 265.46,39.33 265.54,41.72 265.61,44.56 265.69,47.76 265.76,51.22 265.83,54.81 265.91,58.44 265.98,61.99 266.06,65.33 266.13,68.37 266.20,71.01 266.28,73.15 266.35,74.74 266.43,75.73 266.50,76.07 266.57,75.76 266.65,74.80 266.72,73.23 266.80,71.10 266.87,68.46 266.94,65.42 267.02,62.05 267.09,58.48 267.17,54.80 267.24,51.15 267.31,47.63 267.39,44.36 267.46,41.45 267.54,38.98 267.61,37.04 267.68,35.69 267.76,34.97 267.83,34.91 267.91,35.51 267.98,36.75 268.05,38.60 268.13,40.99 268.20,43.85 268.28,47.09 268.35,50.61 268.42,54.29 268.50,58.02 268.57,61.68 268.65,65.15 268.72,68.32 268.79,71.09 268.87,73.37 268.94,75.09 269.02,76.18 269.09,76.63 269.16,76.40 269.24,75.51 269.31,73.98 269.39,71.86 269.46,69.22 269.53,66.14 269.61,62.72 269.68,59.06 269.76,55.29 269.83,51.53 269.90,47.88 269.98,44.48 270.05,41.43 270.13,38.82 270.20,36.75 270.27,35.27 270.35,34.45 270.42,34.29 270.50,34.82 270.57,36.00 270.64,37.82 270.72,40.21 270.79,43.09 270.87,46.38 270.94,49.96 271.01,53.73 271.09,57.57 271.16,61.35 271.24,64.95 271.31,68.26 271.38,71.17 271.46,73.59 271.53,75.44 271.61,76.66 271.68,77.21 271.75,77.06 271.83,76.24 271.90,74.75 271.98,72.65 272.05,70.00 272.12,66.89 272.20,63.41 272.27,59.68 272.35,55.81 272.42,51.93 272.49,48.16 272.57,44.62 272.64,41.43 272.72,38.68 272.79,36.47 272.86,34.87 272.94,33.93 273.01,33.67 273.09,34.12 273.16,35.25 273.23,37.04 273.31,39.42 273.38,42.32 273.46,45.64 273.53,49.29 273.60,53.15 273.68,57.09 273.75,60.99 273.83,64.73 273.90,68.17 273.97,71.23 274.05,73.78 274.12,75.76 274.20,77.10 274.27,77.76 274.34,77.71 274.42,76.95 274.49,75.51 274.57,73.43 274.64,70.78 274.71,67.65 274.79,64.12 274.86,60.32 274.94,56.36 275.01,52.37 275.08,48.48 275.16,44.81 275.23,41.48 275.31,38.59 275.38,36.25 275.45,34.52 275.53,33.46 275.60,33.10 275.68,33.47 275.75,34.54 275.82,36.28 275.90,38.64 275.97,41.55 276.05,44.91 276.12,48.62 276.19,52.55 276.27,56.58 276.34,60.59 276.42,64.45 276.49,68.03 276.56,71.21 276.64,73.90 276.71,76.01 276.79,77.47 276.86,78.24 276.93,78.28 277.01,77.60 277.08,76.22 277.16,74.17 277.23,71.53 277.30,68.38 277.38,64.82 277.45,60.96 277.53,56.93 277.60,52.84 277.67,48.84 277.75,45.05 277.82,41.60 277.90,38.58 277.97,36.11 278.04,34.26 278.12,33.08 278.19,32.62 278.27,32.90 278.34,33.90 278.41,35.59 278.49,37.93 278.56,40.83 278.64,44.20 278.71,47.95 278.78,51.94 278.86,56.05 278.93,60.15 279.01,64.11 279.08,67.80 279.15,71.11 279.23,73.92 279.30,76.15 279.38,77.73 279.45,78.61 279.52,78.75 279.60,78.15 279.67,76.83 279.75,74.83 279.82,72.22 279.89,69.08 279.97,65.50 280.04,61.60 280.12,57.51 280.19,53.35 280.26,49.27 280.34,45.38 280.41,41.81 280.49,38.68 280.56,36.09 280.63,34.12 280.71,32.83 280.78,32.27 280.86,32.46 280.93,33.38 281.00,35.01 281.08,37.30 281.15,40.17 281.23,43.54 281.30,47.30 281.37,51.32 281.45,55.49 281.52,59.66 281.60,63.70 281.67,67.48 281.74,70.89 281.82,73.82 281.89,76.16 281.97,77.85 282.04,78.83 282.11,79.07 282.19,78.56 282.26,77.32 282.34,75.38 282.41,72.81 282.48,69.70 282.56,66.13 282.63,62.22 282.71,58.10 282.78,53.90 282.85,49.75 282.93,45.78 283.00,42.13 283.08,38.90 283.15,36.21 283.22,34.13 283.30,32.74 283.37,32.08 283.45,32.17 283.52,33.00 283.59,34.56 283.67,36.79 283.74,39.62 283.82,42.96 283.89,46.70 283.96,50.73 284.04,54.92 284.11,59.12 284.19,63.22 284.26,67.08 284.33,70.57 284.41,73.58 284.48,76.02 284.56,77.81 284.63,78.89 284.70,79.23 284.78,78.81 284.85,77.66 284.93,75.80 285.00,73.29 285.07,70.22 285.15,66.69 285.22,62.80 285.30,58.68 285.37,54.46 285.44,50.28 285.52,46.26 285.59,42.55 285.67,39.25 285.74,36.47 285.81,34.30 285.89,32.82 285.96,32.06 286.04,32.04 286.11,32.79 286.18,34.25 286.26,36.40 286.33,39.17 286.41,42.45 286.48,46.16 286.55,50.16 286.63,54.34 286.70,58.56 286.78,62.69 286.85,66.59 286.92,70.14 287.00,73.23 287.07,75.75 287.15,77.64 287.22,78.82 287.29,79.25 287.37,78.94 287.44,77.88 287.52,76.11 287.59,73.69 287.66,70.68 287.74,67.20 287.81,63.35 287.89,59.25 287.96,55.03 288.03,50.83 288.11,46.78 288.18,43.01 288.26,39.64 288.33,36.78 288.40,34.52 288.48,32.94 288.55,32.07 288.63,31.96 288.70,32.60 288.77,33.97 288.85,36.03 288.92,38.72 289.00,41.95 289.07,45.61 289.14,49.59 289.22,53.77 289.29,58.00 289.37,62.16 289.44,66.11 289.51,69.73 289.59,72.89 289.66,75.51 289.74,77.49 289.81,78.77 289.88,79.32 289.96,79.11 290.03,78.15 290.11,76.46 290.18,74.12 290.25,71.18 290.33,67.74 290.40,63.92 290.48,59.83 290.55,55.60 290.62,51.37 290.70,47.28 290.77,43.45 290.85,40.00 290.92,37.05 290.99,34.70 291.07,33.00 291.14,32.03 291.22,31.81 291.29,32.35 291.36,33.63 291.44,35.62 291.51,38.24 291.59,41.41 291.66,45.04 291.73,49.01 291.81,53.18 291.88,57.44 291.96,61.64 292.03,65.65 292.10,69.34 292.18,72.60 292.25,75.31 292.33,77.39 292.40,78.78 292.47,79.44 292.55,79.33 292.62,78.46 292.70,76.87 292.77,74.59 292.84,71.71 292.92,68.32 292.99,64.51 293.07,60.42 293.14,56.18 293.21,51.91 293.29,47.76 293.36,43.86 293.44,40.33 293.51,37.29 293.58,34.83 293.66,33.03 293.73,31.95 293.81,31.62 293.88,32.06 293.95,33.25 294.03,35.15 294.10,37.71 294.18,40.84 294.25,44.44 294.32,48.40 294.40,52.59 294.47,56.88 294.55,61.13 294.62,65.20 294.69,68.97 294.77,72.32 294.84,75.14 294.92,77.33 294.99,78.83 295.06,79.59 295.14,79.59 295.21,78.82 295.29,77.31 295.36,75.11 295.43,72.28 295.51,68.92 295.58,65.13 295.66,61.04 295.73,56.77 295.80,52.46 295.88,48.25 295.95,44.27 296.03,40.65 296.10,37.50 296.17,34.93 296.25,33.02 296.32,31.83 296.40,31.40 296.47,31.73 296.54,32.83 296.62,34.66 296.69,37.15 296.77,40.24 296.84,43.82 296.91,47.77 296.99,51.98 297.06,56.30 297.14,60.61 297.21,64.76 297.28,68.62 297.36,72.06 297.43,74.98 297.51,77.29 297.58,78.90 297.65,79.78 297.73,79.88 297.80,79.21 297.88,77.78 297.95,75.65 298.02,72.87 298.10,69.54 298.17,65.77 298.25,61.66 298.32,57.37 298.39,53.01 298.47,48.73 298.54,44.67 298.62,40.96 298.69,37.71 298.76,35.03 298.84,33.00 298.91,31.69 298.99,31.15 299.06,31.39 299.13,32.39 299.21,34.14 299.28,36.58 299.36,39.62 299.43,43.17 299.50,47.13 299.58,51.35 299.65,55.72 299.73,60.08 299.80,64.31 299.87,68.25 299.95,71.80 300.02,74.83 300.10,77.25 300.17,78.98 300.24,79.97 300.32,80.18 300.39,79.61 300.47,78.26 300.54,76.20 300.61,73.48 300.69,70.18 300.76,66.42 300.84,62.31 300.91,57.98 300.98,53.57 301.06,49.23 301.13,45.09 301.21,41.28 301.28,37.92 301.35,35.13 301.43,32.98 301.50,31.56 301.58,30.90 301.65,31.04 301.72,31.95 301.80,33.62 301.87,35.99 301.95,38.99 302.02,42.52 302.09,46.47 302.17,50.72 302.24,55.12 302.32,59.54 302.39,63.84 302.46,67.88 302.54,71.52 302.61,74.67 302.69,77.20 302.76,79.05 302.83,80.15 302.91,80.47 302.98,80.00 303.06,78.74 303.13,76.75 303.20,74.08 303.28,70.82 303.35,67.08 303.43,62.96 303.50,58.61 303.57,54.15 303.65,49.75 303.72,45.52 303.80,41.62 303.87,38.15 303.94,35.25 304.02,32.99 304.09,31.45 304.17,30.68 304.24,30.70 304.31,31.52 304.39,33.11 304.46,35.42 304.54,38.37 304.61,41.87 304.68,45.82 304.76,50.07 304.83,54.51 304.91,58.98 304.98,63.35 305.05,67.48 305.13,71.22 305.20,74.47 305.28,77.12 305.35,79.09 305.42,80.31 305.50,80.74 305.57,80.36 305.65,79.20 305.72,77.28 305.79,74.68 305.87,71.46 305.94,67.73 306.02,63.61 306.09,59.24 306.16,54.75 306.24,50.28 306.31,45.98 306.39,41.98 306.46,38.42 306.53,35.40 306.61,33.03 306.68,31.38 306.76,30.49 306.83,30.41 306.90,31.13 306.98,32.63 307.05,34.87 307.13,37.77 307.20,41.23 307.27,45.16 307.35,49.43 307.42,53.89 307.50,58.41 307.57,62.84 307.64,67.04 307.72,70.88 307.79,74.24 307.87,77.00 307.94,79.08 308.01,80.41 308.09,80.95 308.16,80.68 308.24,79.62 308.31,77.78 308.38,75.24 308.46,72.07 308.53,68.37 308.61,64.26 308.68,59.88 308.75,55.35 308.83,50.84 308.90,46.47 308.98,42.39 309.05,38.73 309.12,35.61 309.20,33.13 309.27,31.36 309.35,30.36 309.42,30.17 309.49,30.79 309.57,32.20 309.64,34.36 309.72,37.20 309.79,40.62 309.86,44.52 309.94,48.78 310.01,53.26 310.09,57.82 310.16,62.30 310.23,66.57 310.31,70.50 310.38,73.95 310.46,76.82 310.53,79.01 310.60,80.45 310.68,81.10 310.75,80.94 310.83,79.97 310.90,78.22 310.97,75.75 311.05,72.64 311.12,68.98 311.20,64.90 311.27,60.51 311.34,55.97 311.42,51.42 311.49,46.99 311.57,42.84 311.64,39.10 311.71,35.88 311.79,33.29 311.86,31.41 311.94,30.30 312.01,30.00 312.08,30.52 312.16,31.83 312.23,33.91 312.31,36.67 312.38,40.04 312.45,43.91 312.53,48.15 312.60,52.63 312.68,57.21 312.75,61.74 312.82,66.07 312.90,70.06 312.97,73.60 313.05,76.56 313.12,78.86 313.19,80.41 313.27,81.18 313.34,81.12 313.42,80.26 313.49,78.60 313.56,76.21 313.64,73.17 313.71,69.56 313.79,65.51 313.86,61.14 313.93,56.59 314.01,52.01 314.08,47.55 314.16,43.34 314.23,39.52 314.30,36.21 314.38,33.53 314.45,31.54 314.53,30.32 314.60,29.91 314.67,30.32 314.75,31.54 314.82,33.52 314.90,36.21 314.97,39.51 315.04,43.33 315.12,47.54 315.19,52.01 315.27,56.59 315.34,61.14 315.41,65.52 315.49,69.58 315.56,73.19 315.64,76.24 315.71,78.64 315.78,80.30 315.86,81.17 315.93,81.22 316.01,80.46 316.08,78.91 316.15,76.61 316.23,73.64 316.30,70.10 316.38,66.09 316.45,61.75 316.52,57.21 316.60,52.63 316.67,48.13 316.75,43.88 316.82,40.00 316.89,36.61 316.97,33.84 317.04,31.75 317.12,30.43 317.19,29.91 317.26,30.21 317.34,31.32 317.41,33.21 317.49,35.81 317.56,39.03 317.63,42.79 317.71,46.96 317.78,51.40 317.86,55.97 317.93,60.53 318.00,64.94 318.08,69.04 318.15,72.72 318.23,75.85 318.30,78.33 318.37,80.09 318.45,81.07 318.52,81.23 318.60,80.58 318.67,79.13 318.74,76.93 318.82,74.05 318.89,70.58 318.97,66.64 319.04,62.34 319.11,57.83 319.19,53.25 319.26,48.74 319.34,44.46 319.41,40.53 319.48,37.08 319.56,34.22 319.63,32.05 319.71,30.63 319.78,30.00 319.85,30.19 319.93,31.19 320.00,32.97 320.08,35.47 320.15,38.62 320.22,42.30 320.30,46.40 320.37,50.80 320.45,55.35 320.52,59.91 320.59,64.33 320.67,68.47 320.74,72.19 320.82,75.39 320.89,77.96 320.96,79.81 321.04,80.88 321.11,81.16 321.19,80.61 321.26,79.27 321.33,77.18 321.41,74.39 321.48,71.01 321.56,67.14 321.63,62.90 321.70,58.43 321.78,53.87 321.85,49.37 321.93,45.07 322.00,41.10 322.07,37.60 322.15,34.68 322.22,32.42 322.30,30.90 322.37,30.17 322.44,30.25 322.52,31.14 322.59,32.81 322.67,35.21 322.74,38.25 322.81,41.85 322.89,45.88 322.96,50.23 323.04,54.74 323.11,59.28 323.18,63.70 323.26,67.85 323.33,71.62 323.41,74.87 323.48,77.51 323.55,79.45 323.63,80.63 323.70,81.01 323.78,80.57 323.85,79.35 323.92,77.36 324.00,74.68 324.07,71.40 324.15,67.61 324.22,63.44 324.29,59.02 324.37,54.50 324.44,50.01 324.52,45.70 324.59,41.71 324.66,38.17 324.74,35.18 324.81,32.85 324.89,31.24 324.96,30.41 325.03,30.38 325.11,31.16 325.18,32.71 325.26,35.00 325.33,37.94 325.40,41.44 325.48,45.40 325.55,49.67 325.63,54.14 325.70,58.64 325.77,63.05 325.85,67.22 325.92,71.02 326.00,74.32 326.07,77.03 326.14,79.05 326.22,80.32 326.29,80.80 326.37,80.48 326.44,79.36 326.51,77.49 326.59,74.92 326.66,71.74 326.74,68.04 326.81,63.95 326.88,59.60 326.96,55.11 327.03,50.65 327.11,46.35 327.18,42.34 327.25,38.76 327.33,35.72 327.40,33.31 327.48,31.61 327.55,30.68 327.62,30.55 327.70,31.21 327.77,32.66 327.85,34.83 327.92,37.66 327.99,41.07 328.07,44.93 328.14,49.14 328.22,53.54 328.29,58.02 328.36,62.41 328.44,66.58 328.51,70.40 328.59,73.75 328.66,76.51 328.73,78.61 328.81,79.98 328.88,80.56 328.96,80.35 329.03,79.35 329.10,77.59 329.18,75.14 329.25,72.06 329.33,68.45 329.40,64.44 329.47,60.15 329.55,55.72 329.62,51.29 329.70,46.99 329.77,42.97 329.84,39.36 329.92,36.26 329.99,33.79 330.07,32.01 330.14,30.98 330.21,30.74 330.29,31.29 330.36,32.62 330.44,34.68 330.51,37.40 330.58,40.71 330.66,44.48 330.73,48.61 330.81,52.97 330.88,57.40 330.95,61.77 331.03,65.95 331.10,69.79 331.18,73.18 331.25,76.00 331.32,78.18 331.40,79.63 331.47,80.32 331.55,80.22 331.62,79.33 331.69,77.69 331.77,75.34 331.84,72.36 331.92,68.86 331.99,64.93 332.06,60.70 332.14,56.32 332.21,51.91 332.29,47.62 332.36,43.59 332.43,39.95 332.51,36.80 332.58,34.26 332.66,32.39 332.73,31.27 332.80,30.92 332.88,31.37 332.95,32.58 333.03,34.53 333.10,37.14 333.17,40.35 333.25,44.04 333.32,48.10 333.40,52.39 333.47,56.79 333.54,61.15 333.62,65.32 333.69,69.19 333.77,72.62 333.84,75.51 333.91,77.76 333.99,79.31 334.06,80.09 334.14,80.10 334.21,79.32 334.28,77.79 334.36,75.55 334.43,72.68 334.51,69.26 334.58,65.41 334.65,61.25 334.73,56.91 334.80,52.52 334.88,48.24 334.95,44.19 335.02,40.51 335.10,37.31 335.17,34.70 335.25,32.75 335.32,31.53 335.39,31.08 335.47,31.41 335.54,32.51 335.62,34.35 335.69,36.87 335.76,39.98 335.84,43.59 335.91,47.58 335.99,51.83 336.06,56.19 336.13,60.54 336.21,64.73 336.28,68.62 336.36,72.10 336.43,75.05 336.50,77.38 336.58,79.02 336.65,79.91 336.73,80.02 336.80,79.36 336.87,77.93 336.95,75.80 337.02,73.02 337.10,69.69 337.17,65.91 337.24,61.80 337.32,57.49 337.39,53.12 337.47,48.84 337.54,44.77 337.61,41.04 337.69,37.78 337.76,35.09 337.84,33.06 337.91,31.74 337.98,31.18 338.06,31.41 338.13,32.40 338.21,34.13 338.28,36.55 338.35,39.58 338.43,43.12 338.50,47.05 338.58,51.26 338.65,55.60 338.72,59.94 338.80,64.15 338.87,68.08 338.95,71.62 339.02,74.64 339.09,77.05 339.17,78.79 339.24,79.78 339.32,80.00 339.39,79.44 339.46,78.12 339.54,76.09 339.61,73.40 339.69,70.14 339.76,66.42 339.83,62.35 339.91,58.07 339.98,53.71 340.06,49.41 340.13,45.31 340.20,41.54 340.28,38.21 340.35,35.44 340.43,33.32 340.50,31.90 340.57,31.24 340.65,31.36 340.72,32.25 340.80,33.88 340.87,36.21 340.94,39.16 341.02,42.63 341.09,46.51 341.17,50.68 341.24,55.01 341.31,59.36 341.39,63.58 341.46,67.55 341.54,71.14 341.61,74.23 341.68,76.73 341.76,78.55 341.83,79.64 341.91,79.96 341.98,79.50 342.05,78.29 342.13,76.35 342.20,73.74 342.28,70.56 342.35,66.91 342.42,62.89 342.50,58.65 342.57,54.31 342.65,50.01 342.72,45.89 342.79,42.08 342.87,38.71 342.94,35.88 343.02,33.67 343.09,32.17 343.16,31.42 343.24,31.43 343.31,32.22 343.39,33.75 343.46,35.98 343.53,38.83 343.61,42.22 343.68,46.03 343.76,50.14 343.83,54.43 343.90,58.75 343.98,62.97 344.05,66.95 344.13,70.56 344.20,73.70 344.27,76.25 344.35,78.15 344.42,79.32 344.50,79.74 344.57,79.39 344.64,78.28 344.72,76.45 344.79,73.95 344.87,70.87 344.94,67.31 345.01,63.37 345.09,59.19 345.16,54.90 345.24,50.64 345.31,46.53 345.38,42.72 345.46,39.33 345.53,36.45 345.61,34.19 345.68,32.61 345.75,31.77 345.83,31.68 345.90,32.36 345.98,33.78 346.05,35.90 346.12,38.64 346.20,41.92 346.27,45.63 346.35,49.66 346.42,53.87 346.49,58.13 346.57,62.31 346.64,66.27 346.72,69.89 346.79,73.05 346.86,75.64 346.94,77.60 347.01,78.85 347.09,79.36 347.16,79.11 347.23,78.12 347.31,76.40 347.38,74.03 347.46,71.07 347.53,67.62 347.60,63.79 347.68,59.70 347.75,55.49 347.83,51.28 347.90,47.22 347.97,43.43 348.05,40.03 348.12,37.13 348.20,34.83 348.27,33.19 348.34,32.26 348.42,32.08 348.49,32.65 348.57,33.95 348.64,35.94 348.71,38.56 348.79,41.71 348.86,45.31 348.94,49.22 349.01,53.34 349.08,57.52 349.16,61.64 349.23,65.56 349.31,69.15 349.38,72.31 349.45,74.94 349.53,76.94 349.60,78.26 349.68,78.86 349.75,78.71 349.82,77.83 349.90,76.24 349.97,73.99 350.05,71.16 350.12,67.84 350.19,64.14 350.27,60.16 350.34,56.05 350.42,51.92 350.49,47.92 350.56,44.17 350.64,40.79 350.71,37.89 350.79,35.55 350.86,33.86 350.93,32.86 351.01,32.59 351.08,33.05 351.16,34.23 351.23,36.09 351.30,38.57 351.38,41.59 351.45,45.05 351.53,48.84 351.60,52.84 351.67,56.93 351.75,60.96 351.82,64.82 351.90,68.38 351.97,71.53 352.04,74.17 352.12,76.21 352.19,77.59 352.27,78.26 352.34,78.22 352.41,77.45 352.49,75.99 352.56,73.88 352.64,71.19 352.71,68.01 352.78,64.43 352.86,60.59 352.93,56.58 353.01,52.55 353.08,48.63 353.15,44.93 353.23,41.58 353.30,38.68 353.38,36.32 353.45,34.58 353.52,33.52 353.60,33.16 353.67,33.51 353.75,34.57 353.82,36.30 353.89,38.64 353.97,41.51 354.04,44.84 354.12,48.50 354.19,52.38 354.26,56.35 354.34,60.30 354.41,64.09 354.49,67.61 354.56,70.74 354.63,73.38 354.71,75.45 354.78,76.88 354.86,77.64 354.93,77.69 355.00,77.03 355.08,75.70 355.15,73.73 355.23,71.18 355.30,68.13 355.37,64.70 355.45,60.98 355.52,57.09 355.60,53.16 355.67,49.31 355.74,45.67 355.82,42.36 355.89,39.46 355.97,37.09 356.04,35.31 356.11,34.18 356.19,33.74 356.26,33.99 356.34,34.93 356.41,36.52 356.48,38.73 356.56,41.46 356.63,44.65 356.71,48.18 356.78,51.94 356.85,55.81 356.93,59.67 357.00,63.39 357.08,66.87 357.15,69.97 357.22,72.62 357.30,74.72 357.37,76.20 357.45,77.03 357.52,77.17 357.59,76.63 357.67,75.42 357.74,73.57 357.82,71.16 357.89,68.25 357.96,64.95 358.04,61.35 358.11,57.57 358.19,53.73 358.26,49.96 358.33,46.38 358.41,43.09 358.48,40.20 358.56,37.81 358.63,35.99 358.70,34.80 358.78,34.27 358.85,34.42 358.93,35.25 359.00,36.72 359.07,38.80 359.15,41.40 359.22,44.46 359.30,47.87 359.37,51.52 359.44,55.29 359.52,59.07 359.59,62.74 359.67,66.17 359.74,69.27 359.81,71.92 359.89,74.05 359.96,75.59 360.04,76.49 360.11,76.73 360.18,76.29 360.26,75.19 360.33,73.47 360.41,71.18 360.48,68.40 360.55,65.21 360.63,61.72 360.70,58.04 360.78,54.28 360.85,50.57 360.92,47.02 361.00,43.75 361.07,40.87 361.15,38.45 361.22,36.58 361.29,35.33 361.37,34.71 361.44,34.77 361.52,35.49 361.59,36.85 361.66,38.80 361.74,41.29 361.81,44.24 361.89,47.54 361.96,51.10 362.03,54.79 362.11,58.51 362.18,62.14 362.26,65.55 362.33,68.64 362.40,71.32 362.48,73.49 362.55,75.09 362.63,76.06 362.70,76.39 362.77,76.05 362.85,75.06 362.92,73.45 363.00,71.27 363.07,68.59 363.14,65.51 363.22,62.10 363.29,58.50 363.37,54.80 363.44,51.13 363.51,47.61 363.59,44.34 363.66,41.43 363.74,38.98 363.81,37.06 363.88,35.73 363.96,35.03 364.03,34.99 364.11,35.61 364.18,36.87 364.25,38.72 364.33,41.11 364.40,43.96 364.48,47.18 364.55,50.66 364.62,54.30 364.70,57.99 364.77,61.59 364.85,65.00 364.92,68.11 364.99,70.83 365.07,73.05 365.14,74.72 365.22,75.78 365.29,76.19 365.36,75.95 365.44,75.05 365.51,73.54 365.59,71.46 365.66,68.87 365.73,65.86 365.81,62.52 365.88,58.97 365.96,55.30 366.03,51.65 366.10,48.12 366.18,44.83 366.25,41.89 366.33,39.38 366.40,37.39 366.47,35.98 366.55,35.20 366.62,35.07 366.70,35.59 366.77,36.75 366.84,38.51 366.92,40.82 366.99,43.60 367.07,46.76 367.14,50.20 367.21,53.81 367.29,57.49 367.36,61.10 367.44,64.53 367.51,67.68 367.58,70.44 367.66,72.73 367.73,74.47 367.81,75.61 367.88,76.11 367.95,75.96 368.03,75.16 368.10,73.73 368.18,71.72 368.25,69.21 368.32,66.25 368.40,62.96 368.47,59.44 368.55,55.80 368.62,52.15 368.69,48.61 368.77,45.30 368.84,42.32 368.92,39.77 368.99,37.72 369.06,36.25 369.14,35.39 369.21,35.18 369.29,35.62 369.36,36.69 369.43,38.37 369.51,40.60 369.58,43.30 369.66,46.39 369.73,49.78 369.80,53.34 369.88,56.98 369.95,60.56 370.03,63.99 370.10,67.14 370.17,69.92 370.25,72.24 370.32,74.03 370.40,75.23 370.47,75.80 370.54,75.73 370.62,75.01 370.69,73.68 370.77,71.77 370.84,69.35 370.91,66.49 370.99,63.29 371.06,59.85 371.14,56.28 371.21,52.69 371.28,49.20 371.36,45.92 371.43,42.95 371.51,40.40 371.58,38.32 371.65,36.81 371.73,35.89 371.80,35.61 371.88,35.96 371.95,36.94 372.02,38.51 372.10,40.62 372.17,43.21 372.25,46.19 372.32,49.46 372.39,52.92 372.47,56.46 372.54,59.97 372.62,63.33 372.69,66.44 372.76,69.19 372.84,71.51 372.91,73.32 372.99,74.56 373.06,75.19 373.13,75.19 373.21,74.57 373.28,73.35 373.36,71.56 373.43,69.27 373.50,66.55 373.58,63.49 373.65,60.18 373.73,56.73 373.80,53.25 373.87,49.86 373.95,46.66 374.02,43.75 374.10,41.22 374.17,39.16 374.24,37.63 374.32,36.67 374.39,36.32 374.47,36.58 374.54,37.45 374.61,38.90 374.69,40.87 374.76,43.31 374.84,46.14 374.91,49.26 374.98,52.57 375.06,55.97 375.13,59.35 375.21,62.60 375.28,65.62 375.35,68.31 375.43,70.59 375.50,72.39 375.58,73.65 375.65,74.32 375.72,74.40 375.80,73.88 375.87,72.78 375.95,71.14 376.02,69.00 376.09,66.45 376.17,63.55 376.24,60.41 376.32,57.13 376.39,53.81 376.46,50.55 376.54,47.46 376.61,44.65 376.69,42.18 376.76,40.16 376.83,38.63 376.91,37.65 376.98,37.24 377.06,37.42 377.13,38.18 377.20,39.49 377.28,41.30 377.35,43.57 377.43,46.22 377.50,49.15 377.57,52.29 377.65,55.51 377.72,58.73 377.80,61.84 377.87,64.74 377.94,67.34 378.02,69.56 378.09,71.33 378.17,72.59 378.24,73.30 378.31,73.45 378.39,73.03 378.46,72.06 378.54,70.56 378.61,68.59 378.68,66.22 378.76,63.52 378.83,60.57 378.91,57.47 378.98,54.33 379.05,51.23 379.13,48.29 379.20,45.58 379.28,43.21 379.35,41.24 379.42,39.73 379.50,38.73 379.57,38.28 379.65,38.37 379.72,39.02 379.79,40.19 379.87,41.85 379.94,43.94 380.02,46.39 380.09,49.13 380.16,52.07 380.24,55.10 380.31,58.15 380.39,61.10 380.46,63.87 380.53,66.36 380.61,68.50 380.68,70.23 380.76,71.48 380.83,72.22 380.90,72.44 380.98,72.11 381.05,71.26 381.13,69.91 381.20,68.12 381.27,65.93 381.35,63.41 381.42,60.66 381.50,57.76 381.57,54.80 381.64,51.87 381.72,49.08 381.79,46.50 381.87,44.21 381.94,42.30 382.01,40.82 382.09,39.82 382.16,39.32 382.24,39.34 382.31,39.88 382.38,40.91 382.46,42.42 382.53,44.33 382.61,46.60 382.68,49.15 382.75,51.89 382.83,54.74 382.90,57.61 382.98,60.41 383.05,63.05 383.12,65.43 383.20,67.50 383.27,69.18 383.35,70.43 383.42,71.19 383.49,71.46 383.57,71.22 383.64,70.49 383.72,69.28 383.79,67.65 383.86,65.63 383.94,63.30 384.01,60.73 384.09,58.01 384.16,55.22 384.23,52.45 384.31,49.79 384.38,47.33 384.46,45.13 384.53,43.28 384.60,41.82 384.68,40.80 384.75,40.26 384.83,40.22 384.90,40.66 384.97,41.57 385.05,42.93 385.12,44.69 385.20,46.79 385.27,49.16 385.34,51.73 385.42,54.42 385.49,57.14 385.57,59.80 385.64,62.32 385.71,64.62 385.79,66.62 385.86,68.27 385.94,69.51 386.01,70.31 386.08,70.63 386.16,70.47 386.23,69.84 386.31,68.76 386.38,67.26 386.45,65.40 386.53,63.23 386.60,60.82 386.68,58.25 386.75,55.60 386.82,52.96 386.90,50.41 386.97,48.03 387.05,45.90 387.12,44.08 387.19,42.64 387.27,41.60 387.34,41.02 387.42,40.91 387.49,41.26 387.56,42.07 387.64,43.30 387.71,44.93 387.79,46.89 387.86,49.13 387.93,51.56 388.01,54.12 388.08,56.73 388.16,59.29 388.23,61.72 388.30,63.96 388.38,65.93 388.45,67.57 388.53,68.82 388.60,69.65 388.67,70.02 388.75,69.94 388.82,69.41 388.90,68.43 388.97,67.05 389.04,65.30 389.12,63.25 389.19,60.95 389.27,58.49 389.34,55.95 389.41,53.39 389.49,50.91 389.56,48.58 389.64,46.48 389.71,44.67 389.78,43.21 389.86,42.15 389.93,41.52 390.01,41.34 390.08,41.61 390.15,42.33 390.23,43.47 390.30,44.99 390.38,46.85 390.45,48.99 390.52,51.34 390.60,53.82 390.67,56.35 390.75,58.86 390.82,61.27 390.89,63.49 390.97,65.45 391.04,67.11 391.12,68.39 391.19,69.27 391.26,69.71 391.34,69.70 391.41,69.24 391.49,68.35 391.56,67.05 391.63,65.38 391.71,63.41 391.78,61.18 391.86,58.78 391.93,56.28 392.00,53.76 392.08,51.30 392.15,48.97 392.23,46.86 392.30,45.02"/>
<text x="94.3" y="32.10" font-size="6.1" text-anchor="end" style="stroke:none;fill:#1a1a1a"><tspan style="font-family:IPAGothic, 'Liberation Sans', sans-serif;font-size:0.95em;letter-spacing:0.085em">1</tspan></text>
<text x="94.3" y="44.95" font-size="6.1" text-anchor="end" style="stroke:none;fill:#1a1a1a">0.5</text>
<text x="94.3" y="57.80" font-size="6.1" text-anchor="end" style="stroke:none;fill:#1a1a1a">0</text>
<text x="94.3" y="70.65" font-size="6.1" text-anchor="end" style="stroke:none;fill:#1a1a1a">-0.5</text>
<rect x="101.3" y="34.8" width="87.2" height="14.3" fill="#fff" stroke="#d6d6d6" stroke-width="0.8"/>
<line x1="104" y1="42" x2="121.4" y2="42" stroke="#bdbdbd" stroke-width="1.5"/>
<text x="123.8" y="46.2" font-size="10.7">normalzied E</text>
</g>
<g>
<rect x="96.5" y="81.5" width="296" height="138" fill="none" stroke="#e4e4e4" stroke-width="1"/>
<line x1="96.30" y1="219.20" x2="96.30" y2="216.20" stroke="#a0a0a0" stroke-width="0.8"/>
<line x1="96.30" y1="81.50" x2="96.30" y2="84.30" stroke="#a0a0a0" stroke-width="0.8"/>
<line x1="138.59" y1="219.20" x2="138.59" y2="216.20" stroke="#a0a0a0" stroke-width="0.8"/>
<line x1="138.59" y1="81.50" x2="138.59" y2="84.30" stroke="#a0a0a0" stroke-width="0.8"/>
<line x1="180.87" y1="219.20" x2="180.87" y2="216.20" stroke="#a0a0a0" stroke-width="0.8"/>
<line x1="180.87" y1="81.50" x2="180.87" y2="84.30" stroke="#a0a0a0" stroke-width="0.8"/>
<line x1="223.16" y1="219.20" x2="223.16" y2="216.20" stroke="#a0a0a0" stroke-width="0.8"/>
<line x1="223.16" y1="81.50" x2="223.16" y2="84.30" stroke="#a0a0a0" stroke-width="0.8"/>
<line x1="265.44" y1="219.20" x2="265.44" y2="216.20" stroke="#a0a0a0" stroke-width="0.8"/>
<line x1="265.44" y1="81.50" x2="265.44" y2="84.30" stroke="#a0a0a0" stroke-width="0.8"/>
<line x1="307.73" y1="219.20" x2="307.73" y2="216.20" stroke="#a0a0a0" stroke-width="0.8"/>
<line x1="307.73" y1="81.50" x2="307.73" y2="84.30" stroke="#a0a0a0" stroke-width="0.8"/>
<line x1="350.01" y1="219.20" x2="350.01" y2="216.20" stroke="#a0a0a0" stroke-width="0.8"/>
<line x1="350.01" y1="81.50" x2="350.01" y2="84.30" stroke="#a0a0a0" stroke-width="0.8"/>
<line x1="392.30" y1="219.20" x2="392.30" y2="216.20" stroke="#a0a0a0" stroke-width="0.8"/>
<line x1="392.30" y1="81.50" x2="392.30" y2="84.30" stroke="#a0a0a0" stroke-width="0.8"/>
<line x1="96.50" y1="219.20" x2="99.50" y2="219.20" stroke="#a0a0a0" stroke-width="0.8"/>
<line x1="392.50" y1="219.20" x2="389.50" y2="219.20" stroke="#a0a0a0" stroke-width="0.8"/>
<line x1="96.50" y1="191.56" x2="99.50" y2="191.56" stroke="#a0a0a0" stroke-width="0.8"/>
<line x1="392.50" y1="191.56" x2="389.50" y2="191.56" stroke="#a0a0a0" stroke-width="0.8"/>
<line x1="96.50" y1="163.92" x2="99.50" y2="163.92" stroke="#a0a0a0" stroke-width="0.8"/>
<line x1="392.50" y1="163.92" x2="389.50" y2="163.92" stroke="#a0a0a0" stroke-width="0.8"/>
<line x1="96.50" y1="136.28" x2="99.50" y2="136.28" stroke="#a0a0a0" stroke-width="0.8"/>
<line x1="392.50" y1="136.28" x2="389.50" y2="136.28" stroke="#a0a0a0" stroke-width="0.8"/>
<line x1="96.50" y1="108.64" x2="99.50" y2="108.64" stroke="#a0a0a0" stroke-width="0.8"/>
<line x1="392.50" y1="108.64" x2="389.50" y2="108.64" stroke="#a0a0a0" stroke-width="0.8"/>
<line x1="96.50" y1="81.00" x2="99.50" y2="81.00" stroke="#a0a0a0" stroke-width="0.8"/>
<line x1="392.50" y1="81.00" x2="389.50" y2="81.00" stroke="#a0a0a0" stroke-width="0.8"/>
<polyline fill="none" stroke="#0072BD" stroke-width="1.15" stroke-linejoin="round" points="96.22,81.00 101.32,81.00 101.53,81.41 101.63,81.45 102.53,81.49 102.84,81.98 102.94,82.02 103.83,82.06 104.14,82.55 104.26,82.60 105.14,82.64 105.44,83.75 105.49,83.83 106.32,83.91 106.73,85.42 106.78,85.50 107.56,85.58 107.82,85.90 108.02,88.59 108.13,88.97 108.89,89.07 109.18,90.70 109.34,95.70 109.47,96.50 109.63,96.60 110.23,96.70 110.64,109.00 110.75,110.10 110.89,110.30 111.49,110.40 111.92,122.10 112.04,123.20 112.10,123.30 112.77,123.40 113.14,127.00 113.26,136.80 113.39,139.40 113.54,139.80 114.00,139.90 114.26,145.40 114.44,170.00 114.57,173.20 114.71,173.70 115.39,173.80 115.72,180.00 115.86,189.30 115.96,190.50 116.12,190.70 116.69,190.80 117.13,206.10 117.25,207.40 117.47,207.60 118.00,207.70 118.41,216.03 118.55,216.82 118.74,216.92 119.35,217.02 119.68,218.99 119.79,219.20"/>
<polyline fill="none" stroke="#D95319" stroke-width="1.15" stroke-linejoin="round" points="102.89,219.20 103.76,219.13 104.12,218.00 104.34,217.85 105.13,217.78 105.45,216.65 105.52,216.58 106.40,216.51 106.76,214.38 106.87,214.19 107.66,214.09 108.02,210.67 108.16,210.29 108.95,210.20 109.20,208.30 109.35,203.30 109.47,202.50 109.62,202.40 110.22,202.30 110.63,192.30 110.75,191.40 110.81,191.30 111.48,191.20 111.75,186.70 111.88,178.91 112.00,177.43 112.11,177.23 112.81,177.13 113.22,170.00 113.33,166.80 113.41,166.30 113.47,166.20 114.01,166.10 114.28,162.60 114.46,123.00 114.58,120.10 114.68,119.60 115.42,119.40 115.84,105.60 115.95,104.40 115.99,104.30 116.71,104.10 117.00,96.40 117.02,91.20 117.15,89.50 117.33,89.20 118.06,89.10 118.41,86.49 118.54,86.21 119.38,86.12 119.56,85.40 119.74,86.67 119.87,86.85 120.70,86.94 120.96,90.30 121.08,96.30 121.14,96.50 121.88,96.60 122.16,98.20 122.38,103.70 122.48,104.40 122.56,104.50 123.16,104.60 123.44,109.60 123.66,126.00 123.77,128.10 123.85,128.40 124.45,128.60 124.80,175.00 124.94,179.90 125.05,180.70 125.12,180.80 125.78,180.90 126.04,184.00 126.23,199.30 126.34,201.50 126.41,201.80 126.54,201.90 127.07,202.00 127.52,215.80 127.59,216.70 127.65,216.80 128.42,216.89 128.72,219.20"/>
<polyline fill="none" stroke="#EDB120" stroke-width="1.15" stroke-linejoin="round" points="118.18,219.20 118.49,218.02 118.54,217.93 119.30,217.83 119.73,213.88 119.81,213.59 119.90,213.49 120.66,213.40 121.03,205.30 121.15,204.50 121.24,204.40 121.92,204.30 122.34,192.70 122.46,191.70 122.51,191.60 123.15,191.50 123.42,188.60 123.70,164.30 123.81,161.70 123.94,161.30 124.36,161.20 124.62,157.00 124.84,123.80 124.97,117.40 125.08,116.40 125.24,116.20 125.77,116.10 126.06,108.30 126.22,93.00 126.32,92.20 126.48,92.00 127.13,91.90 127.49,83.80 127.56,83.33 127.65,83.25 128.51,83.18 128.73,82.59 128.94,82.81 129.83,82.86 130.12,83.40 130.21,83.90 130.28,84.00 131.02,84.10 131.36,90.30 131.51,90.93 132.32,91.02 132.58,92.10 132.75,96.80 132.87,97.50 133.63,97.70 133.92,109.00 134.01,123.30 134.13,126.20 134.22,126.60 134.88,126.80 135.12,131.40 135.27,159.10 135.39,163.40 135.48,164.00 135.54,164.10 136.12,164.20 136.39,167.00 136.50,190.00 136.65,196.80 136.75,197.80 136.90,198.00 137.49,198.10 137.92,212.20 138.04,212.90 138.13,213.00 138.83,213.10 139.14,217.70 139.26,218.32 139.33,218.41 140.17,218.49 140.36,219.20"/>
<polyline fill="none" stroke="#7E2F8E" stroke-width="1.15" stroke-linejoin="round" points="128.74,219.20 128.89,218.45 129.81,218.26 130.14,215.54 130.33,215.26 131.08,215.16 131.44,208.90 131.54,208.30 131.61,208.20 132.30,208.10 132.74,199.50 132.84,198.80 132.89,198.70 133.55,198.60 133.78,197.30 134.02,175.40 134.13,174.10 134.20,173.90 134.80,173.80 135.06,172.60 135.24,132.70 135.39,123.50 135.49,122.20 135.56,122.00 136.14,121.80 136.42,113.40 136.58,97.90 136.70,94.90 136.83,94.40 137.44,94.30 137.71,91.20 137.78,85.00 137.94,83.27 138.02,83.08 138.79,82.98 139.23,81.71 139.30,81.64 140.19,81.57 140.59,81.35 141.74,81.40 141.94,81.69 142.83,81.74 143.13,82.49 143.21,82.54 144.11,82.60 144.45,85.90 144.55,86.20 145.35,86.30 145.76,91.30 145.85,91.70 146.65,91.90 147.02,98.20 147.13,98.80 147.20,98.90 147.93,99.00 148.18,104.00 148.24,123.50 148.36,128.70 148.46,129.50 148.64,129.70 149.19,129.80 149.52,140.00 149.65,158.50 149.73,160.40 149.88,160.80 150.46,160.90 150.74,166.60 150.87,198.50 150.98,202.60 151.09,203.30 151.19,203.40 151.78,203.50 152.18,217.10 152.32,217.77 153.07,217.86 153.36,219.20"/>
<polyline fill="none" stroke="#77AC30" stroke-width="1.15" stroke-linejoin="round" points="141.89,219.20 142.64,219.11 142.96,218.41 143.15,216.85 143.25,216.67 144.06,216.57 144.46,212.73 144.53,212.44 144.63,212.34 145.34,212.24 145.62,208.50 145.75,204.50 145.89,203.80 146.51,203.70 146.78,202.50 147.02,194.50 147.12,193.60 147.17,193.50 147.89,193.40 148.20,190.00 148.28,174.20 148.41,172.80 148.54,172.60 149.22,172.50 149.48,169.00 149.69,123.70 149.79,122.00 149.98,121.70 150.43,121.60 150.70,114.30 150.84,103.00 150.97,100.50 151.11,99.20 151.15,99.10 151.65,99.00 151.91,97.60 152.02,92.10 152.23,90.73 152.34,90.56 153.19,90.47 153.44,92.10 153.57,96.60 153.68,97.30 153.78,97.40 154.39,97.50 154.67,106.20 154.83,121.80 154.92,123.80 154.99,124.10 155.09,124.20 155.68,124.30 155.97,131.20 156.13,142.20 156.25,143.90 156.31,144.10 156.99,144.30 157.26,160.00 157.30,180.00 157.44,187.80 157.54,189.00 157.61,189.20 158.18,189.30 158.43,190.30 158.71,210.30 158.79,212.20 158.91,212.60 159.57,212.70 159.85,216.40 159.99,218.82 160.09,219.20"/>
<polyline fill="none" stroke="#4DBEEE" stroke-width="1.15" stroke-linejoin="round" points="152.02,219.20 152.28,216.40 152.35,216.10 152.46,216.00 153.13,215.90 153.54,205.80 153.67,204.90 153.76,204.80 154.40,204.70 154.66,198.30 154.79,173.70 154.91,169.30 155.04,168.60 155.66,168.40 155.94,160.00 156.04,123.50 156.16,116.20 156.28,115.00 156.42,114.80 156.96,114.70 157.42,96.90 157.52,95.40 157.66,95.10 158.29,95.00 158.60,88.50 158.74,87.42 158.84,87.24 159.67,87.15 160.02,90.90 160.14,91.28 160.92,91.38 161.20,93.30 161.33,102.50 161.44,104.00 161.57,104.30 162.17,104.40 162.42,108.10 162.65,134.90 162.76,138.10 162.86,138.60 162.95,138.70 163.41,138.80 163.68,144.60 163.91,176.50 164.02,180.50 164.11,181.10 164.18,181.20 164.72,181.30 164.99,185.40 165.18,212.20 165.31,213.50 165.43,213.70 166.13,213.80 166.46,218.26 166.59,218.82 167.51,219.01 167.58,219.20"/>
<polyline fill="none" stroke="#A2142F" stroke-width="1.15" stroke-linejoin="round" points="157.42,219.20 157.55,219.05 158.41,218.97 158.75,216.05 158.87,215.75 159.62,215.66 159.88,213.50 160.04,208.10 160.16,207.30 160.25,207.20 160.90,207.10 161.32,195.90 161.44,194.90 161.49,194.80 162.12,194.70 162.39,193.30 162.66,174.10 162.77,171.90 162.87,171.60 163.37,171.50 163.61,170.00 163.68,150.00 163.92,123.50 164.03,121.30 164.17,120.90 164.75,120.80 165.03,115.70 165.10,92.00 165.22,85.50 165.31,85.11 165.43,85.02 166.17,84.92 166.45,82.36 166.59,82.00 167.46,81.93 167.76,81.00 176.78,81.00 176.94,81.80 176.99,81.88 177.85,81.96 178.14,83.00 178.26,84.36 178.33,84.55 179.17,84.75 179.54,91.60 179.65,92.20 180.45,92.40 180.83,99.30 180.94,99.90 181.02,100.00 181.73,100.10 182.06,112.60 182.15,126.70 182.27,129.30 182.39,129.70 182.91,129.80 183.17,133.90 183.34,162.70 183.47,167.20 183.58,167.90 183.65,168.00 184.28,168.10 184.52,171.00 184.64,202.70 184.77,209.90 184.88,211.00 185.06,211.20 185.57,211.30 185.87,216.70 185.95,218.63 186.06,219.04 186.17,219.12 187.01,219.20"/>
<polyline fill="none" stroke="#0072BD" stroke-width="1.15" stroke-linejoin="round" points="174.28,219.20 174.39,219.12 175.31,219.09 175.66,217.75 175.72,217.66 176.56,217.57 176.96,215.33 177.08,215.14 177.87,215.04 178.27,211.10 178.41,210.70 179.11,210.60 179.55,202.70 179.66,202.00 179.78,201.90 180.42,201.80 180.74,193.70 180.87,185.50 181.00,176.00 181.11,174.60 181.20,174.40 181.50,174.30 181.76,169.90 181.81,163.70 182.12,153.10 182.22,152.00 182.31,151.80 182.96,151.70 183.18,150.30 183.43,114.10 183.49,111.00 183.60,110.50 184.15,110.40 184.40,109.90 184.62,101.50 184.76,100.29 184.81,100.19 185.69,100.01 185.88,98.70 186.05,100.10 186.17,100.29 186.98,100.38 187.26,116.70 187.38,118.90 187.51,119.30 188.18,119.40 188.48,123.70 188.62,138.20 188.74,140.60 188.82,140.90 189.48,141.10 189.76,150.00 189.88,196.20 190.01,198.40 190.11,198.70 190.76,198.80 191.03,202.00 191.20,209.70 191.31,210.90 191.39,211.10 192.06,211.20 192.34,213.90 192.51,217.13 192.61,217.62 192.70,217.72 193.45,217.81 193.76,219.20"/>
<polyline fill="none" stroke="#D95319" stroke-width="1.15" stroke-linejoin="round" points="182.19,219.20 183.11,219.16 183.46,217.68 183.63,217.49 184.38,217.40 184.74,213.85 184.82,213.56 185.00,213.46 185.67,213.37 186.04,202.90 186.16,201.80 186.31,201.60 186.88,201.50 187.19,193.20 187.38,182.40 187.48,181.00 187.55,180.80 188.04,180.70 188.30,179.50 188.61,154.30 188.72,151.50 188.85,151.00 189.42,150.90 189.67,145.60 189.84,111.00 189.97,105.00 190.06,104.10 190.19,103.90 190.77,103.80 191.04,97.10 191.14,86.30 191.27,84.50 191.43,84.20 192.15,84.10 192.50,81.70 192.61,81.43 193.47,81.35 193.82,81.00 228.92,81.00 228.98,81.03 229.90,81.07 230.25,81.47 231.25,81.53 231.60,81.93 232.52,81.97 232.82,83.00 233.00,83.14 233.83,83.21 234.15,84.36 234.24,84.43 235.11,84.50 235.42,86.41 235.49,86.59 236.41,86.76 236.73,88.78 236.80,88.96 237.54,89.05 237.83,89.70 238.03,91.63 238.11,91.82 238.90,91.91 239.33,95.44 239.41,95.73 239.52,95.82 240.27,95.92 240.63,105.40 240.74,106.20 240.83,106.30 241.52,106.40 241.95,115.00 242.05,115.70 242.12,115.80 242.78,115.90 243.23,125.60 243.33,126.40 243.37,126.50 244.13,126.70 244.52,136.60 244.63,137.50 244.67,137.60 245.43,137.80 245.72,143.70 245.74,158.90 245.87,161.90 246.01,162.40 246.69,162.50 246.96,166.00 247.12,180.00 247.23,181.60 247.29,181.80 247.44,181.90 248.00,182.00 248.43,196.50 248.55,197.80 248.59,197.90 249.12,198.00 249.39,198.40 249.68,208.69 249.79,209.98 249.85,210.18 250.65,210.37 251.03,217.01 251.15,217.60 251.28,217.70 251.94,217.80 252.28,219.20"/>
<polyline fill="none" stroke="#EDB120" stroke-width="1.15" stroke-linejoin="round" points="230.18,219.20 230.27,219.08 231.16,219.02 231.54,217.88 231.60,217.80 232.44,217.72 232.83,216.19 232.97,216.03 233.81,215.95 234.14,214.43 234.20,214.35 235.06,214.26 235.47,212.43 235.52,212.34 236.31,212.24 236.74,209.23 236.81,209.04 237.69,208.86 238.03,205.94 238.19,205.66 238.98,205.56 239.33,201.11 239.46,200.62 240.21,200.52 240.63,195.56 240.73,195.17 240.85,195.07 241.56,194.97 241.93,187.15 242.03,186.45 242.07,186.35 242.69,186.26 242.95,185.56 243.23,176.70 243.34,175.70 243.38,175.60 244.12,175.40 244.53,164.20 244.64,163.20 244.68,163.10 245.42,162.90 245.68,158.00 245.77,143.30 245.89,140.00 245.97,139.50 246.04,139.40 246.66,139.30 246.94,135.00 247.12,126.70 247.24,125.50 247.39,125.30 248.01,125.20 248.42,114.90 248.53,114.52 249.31,114.42 249.72,111.00 249.83,111.28 250.65,111.37 251.02,113.90 251.14,115.50 251.23,115.70 251.85,115.80 252.13,119.50 252.33,134.30 252.44,136.20 252.52,136.50 253.02,136.60 253.28,137.10 253.62,160.00 253.72,160.59 253.77,160.69 254.50,160.79 254.88,166.00 255.00,170.90 255.11,171.70 255.18,171.80 255.73,171.90 256.00,176.60 256.19,190.70 256.31,192.90 256.40,193.20 257.00,193.30 257.27,194.70 257.52,202.15 257.63,203.05 257.69,203.15 258.37,203.25 258.65,206.03 258.80,210.68 258.90,211.37 258.94,211.46 259.59,211.56 259.86,212.05 260.12,216.63 260.23,217.22 260.34,217.32 261.05,217.41 261.41,218.97 261.53,219.12 262.41,219.20"/>
<polyline fill="none" stroke="#7E2F8E" stroke-width="1.15" stroke-linejoin="round" points="244.59,219.20 245.43,219.12 245.84,217.58 245.96,217.30 246.60,217.20 246.87,216.51 247.12,210.59 247.24,209.80 247.32,209.70 248.01,209.60 248.43,201.85 248.53,201.16 248.59,201.06 249.29,200.96 249.76,192.30 249.88,191.60 250.62,191.40 251.03,179.60 251.15,178.50 251.19,178.40 251.80,178.30 252.06,177.10 252.33,164.40 252.45,162.90 252.57,162.70 253.18,162.60 253.47,156.50 253.62,148.00 253.72,146.70 253.78,146.50 253.96,146.40 254.51,146.30 254.80,139.70 254.94,130.70 255.05,129.30 255.13,129.10 255.71,129.00 255.98,126.60 256.19,115.40 256.31,113.80 256.46,113.50 257.11,113.40 257.53,103.60 257.65,102.70 257.70,102.60 258.33,102.50 258.60,100.70 258.79,94.20 258.92,93.20 258.98,93.10 259.72,93.00 260.10,90.21 260.23,89.95 261.09,89.87 261.45,91.75 261.70,91.93 262.40,92.02 262.75,95.70 262.84,96.00 263.51,96.10 263.77,96.69 264.02,101.52 264.11,102.11 264.16,102.21 264.88,102.31 265.16,105.20 265.33,110.70 265.45,111.60 265.49,111.70 266.11,111.80 266.38,113.20 266.56,120.39 266.68,121.67 266.76,121.87 267.51,121.97 267.86,126.00 267.98,129.70 268.11,130.30 268.72,130.40 268.99,132.50 269.20,143.60 269.33,145.20 269.41,145.40 270.06,145.50 270.34,148.70 270.53,159.00 270.62,160.20 270.68,160.40 271.42,160.60 271.83,172.30 271.94,173.30 271.98,173.40 272.72,173.60 273.13,184.80 273.24,185.80 273.28,185.90 274.02,186.10 274.40,194.47 274.50,195.26 274.68,195.46 275.35,195.56 275.64,200.00 275.77,203.80 275.88,204.40 276.62,204.60 277.02,211.11 277.13,211.70 277.24,211.80 277.95,211.89 278.28,216.30 278.37,216.54 278.60,216.61 279.32,216.69 279.63,218.10 279.68,218.18 280.46,218.26 280.86,219.20 392.54,219.20"/>
<polyline fill="none" stroke="#77AC30" stroke-width="1.15" stroke-linejoin="round" points="256.18,219.20 256.34,218.99 257.22,218.92 257.55,217.74 257.59,217.65 258.51,217.48 258.82,215.57 258.89,215.39 259.81,215.22 260.12,213.30 260.19,213.13 261.11,212.96 261.42,211.04 261.49,210.87 262.41,210.70 262.74,206.56 262.85,206.17 263.56,206.07 263.84,204.50 264.02,200.77 264.16,200.18 264.88,200.08 265.33,194.69 265.46,194.19 266.20,194.10 266.64,185.95 266.76,185.25 266.95,185.15 267.53,185.05 267.96,175.60 268.08,174.80 268.16,174.70 268.78,174.60 269.07,168.80 269.19,162.91 269.30,161.82 269.49,161.63 270.15,161.53 270.53,155.40 270.68,154.20 270.72,154.10 271.38,153.90 271.66,144.80 271.82,134.00 271.93,132.30 272.05,132.00 272.66,131.90 272.94,127.30 273.10,121.40 273.20,120.50 273.32,120.30 274.03,120.20 274.40,107.20 274.51,105.90 274.60,105.70 275.28,105.60 275.56,102.20 275.73,96.20 275.84,95.30 275.88,95.20 276.52,95.10 276.81,94.02 277.03,90.79 277.09,90.50 277.96,90.43 278.33,89.29 278.37,89.21 279.20,89.14 279.62,88.00 279.80,88.14 280.63,88.21 280.95,89.36 281.04,89.43 281.91,89.50 282.27,90.86 282.36,90.95 283.18,91.04 283.52,93.18 283.72,93.45 284.50,93.54 284.84,96.21 285.02,96.50 285.78,96.59 286.13,99.81 286.31,100.20 287.04,100.29 287.43,105.59 287.57,106.08 288.31,106.18 288.74,111.97 288.84,112.46 288.93,112.56 289.63,112.66 290.03,119.36 290.15,119.96 290.30,120.05 290.94,120.15 291.33,127.07 291.45,127.77 291.63,127.87 292.24,127.96 292.63,135.20 292.73,135.80 292.83,135.90 293.55,135.99 293.92,140.90 294.03,141.39 294.20,141.49 294.86,141.59 295.20,146.19 295.32,146.67 296.06,146.76 296.36,148.00 296.53,150.29 296.63,150.57 297.38,150.67 297.66,152.00 297.83,155.14 297.92,155.53 298.00,155.63 298.74,155.72 299.13,160.72 299.21,161.12 299.29,161.21 300.03,161.31 300.43,167.25 300.52,167.74 300.58,167.84 301.31,167.94 301.73,173.88 301.82,174.37 301.88,174.47 302.62,174.57 303.03,180.31 303.12,180.81 303.18,180.91 303.92,181.01 304.33,186.85 304.44,187.34 304.60,187.44 305.25,187.54 305.61,192.77 305.72,193.25 305.82,193.35 306.56,193.44 306.93,197.71 306.99,198.00 307.19,198.09 307.91,198.18 308.22,200.20 308.30,200.37 309.10,200.46 309.53,202.57 309.62,202.75 310.45,202.83 310.84,204.82 310.97,204.99 311.80,205.08 312.12,206.86 312.19,207.04 312.98,207.12 313.43,208.99 313.52,209.16 314.36,209.25 314.71,210.67 314.80,210.81 315.68,210.88 316.03,212.01 316.07,212.09 316.89,212.16 317.35,213.36 317.45,213.43 318.32,213.50 318.60,214.21 318.65,214.24 319.65,214.31 319.96,214.72 320.85,214.76 321.28,215.20 322.19,215.24 322.60,215.68 323.51,215.72 323.83,216.13 323.93,216.16 324.83,216.20 325.18,216.45 326.46,216.66 327.75,216.88 329.17,217.11 330.42,217.32 331.69,217.53 332.99,217.65 334.29,217.72 335.59,217.79 336.89,217.86 338.19,217.93 339.49,217.99 349.89,218.02 362.89,218.04 375.89,218.07 388.89,218.09 392.54,218.10"/>
<polyline fill="none" stroke="#4DBEEE" stroke-width="1.15" stroke-linejoin="round" points="273.12,219.20 274.38,219.10 274.46,219.00 275.32,218.94 275.77,218.22 276.65,218.17 277.07,217.44 277.96,217.39 278.38,216.66 279.28,216.61 279.66,215.29 279.72,215.21 280.57,215.12 280.94,213.36 281.18,213.19 281.92,213.11 282.26,211.13 282.41,210.94 283.18,210.85 283.53,207.75 283.65,207.47 284.45,207.37 284.84,203.66 284.92,203.36 285.02,203.27 285.75,203.17 286.13,198.62 286.25,198.23 286.98,198.13 287.42,194.51 287.50,194.23 287.62,194.14 288.38,194.05 288.75,190.54 288.83,190.24 288.96,190.14 289.66,190.05 290.03,185.26 290.11,184.87 290.19,184.77 290.94,184.68 291.34,178.15 291.45,177.55 292.25,177.35 292.63,170.51 292.75,169.82 293.55,169.62 293.93,162.78 294.05,162.08 294.85,161.88 295.22,155.88 295.35,155.29 295.94,155.20 296.20,155.00 296.52,149.61 296.63,149.02 296.86,148.92 297.46,148.82 297.83,143.83 297.92,143.44 298.00,143.34 298.74,143.24 299.14,137.84 299.26,137.35 299.97,137.25 300.26,135.09 300.43,131.45 300.53,130.96 300.61,130.86 301.33,130.76 301.73,125.47 301.86,124.98 302.60,124.88 303.03,119.79 303.16,119.30 303.81,119.20 304.08,118.31 304.32,112.56 304.44,111.87 304.52,111.77 305.23,111.67 305.61,106.05 305.76,105.46 306.51,105.37 306.93,100.68 307.03,100.29 307.69,100.20 307.98,99.71 308.18,97.20 308.28,96.84 308.42,96.75 309.20,96.66 309.53,94.61 309.61,94.43 310.44,94.34 310.80,92.64 310.89,92.50 311.76,92.43 312.13,91.29 312.17,91.21 313.00,91.14 313.45,90.26 313.61,90.22 314.44,90.18 314.74,89.69 314.84,89.65 315.73,89.61 316.03,89.12 316.11,89.08 317.02,89.04 317.39,88.89 318.69,88.76 319.99,88.63 321.29,88.50 323.89,88.47 326.49,88.44 329.09,88.41 331.69,88.39 334.29,88.36 336.89,88.33 339.49,88.30 392.54,88.30"/>
<polyline fill="none" stroke="#A2142F" stroke-width="1.15" stroke-linejoin="round" points="96.22,219.20 289.92,219.20 291.39,219.15 292.69,219.11 293.99,219.04 295.29,218.95 296.59,218.87 297.89,218.79 299.19,218.71 300.49,218.63 301.77,218.43 303.06,218.18 304.50,217.91 305.72,217.67 306.99,217.42 307.91,217.40 308.25,217.10 309.26,217.06 309.62,216.76 310.53,216.74 310.87,216.44 311.77,216.42 312.14,216.12 313.14,216.07 313.49,215.78 314.48,215.73 314.77,215.49 315.77,215.44 316.05,215.20 317.06,215.16 317.34,214.91 318.34,214.87 318.71,214.60 319.69,214.56 319.99,214.36 321.29,214.25 322.59,214.13 323.89,214.01 325.19,213.90 326.49,213.78 327.79,213.68 329.09,213.63 330.39,213.58 331.69,213.52 332.99,213.47 334.29,213.42 335.59,213.36 336.89,213.31 338.19,213.26 339.49,213.20 343.39,213.17 347.29,213.15 351.19,213.12 355.09,213.10 392.54,213.10"/>
<text x="93.2" y="223.80" font-size="11.8" text-anchor="end">0</text>
<text x="93.2" y="196.16" font-size="11.8" text-anchor="end">0.2</text>
<text x="93.2" y="168.52" font-size="11.8" text-anchor="end">0.4</text>
<text x="93.2" y="140.88" font-size="11.8" text-anchor="end">0.6</text>
<text x="93.2" y="113.24" font-size="11.8" text-anchor="end">0.8</text>
<text x="93.2" y="85.60" font-size="11.8" text-anchor="end"><tspan style="font-family:IPAGothic, 'Liberation Sans', sans-serif;font-size:0.95em;letter-spacing:0.085em">1</tspan></text>
<text x="96.30" y="234.5" font-size="11.8" text-anchor="middle">0</text>
<text x="138.59" y="234.5" font-size="11.8" text-anchor="middle">0.5</text>
<text x="181.97" y="234.5" font-size="11.8" text-anchor="middle"><tspan style="font-family:IPAGothic, 'Liberation Sans', sans-serif;font-size:0.95em;letter-spacing:0.085em">1</tspan></text>
<text x="223.16" y="234.5" font-size="11.8" text-anchor="middle"><tspan style="font-family:IPAGothic, 'Liberation Sans', sans-serif;font-size:0.95em;letter-spacing:0.085em">1</tspan>.5</text>
<text x="265.44" y="234.5" font-size="11.8" text-anchor="middle">2</text>
<text x="307.73" y="234.5" font-size="11.8" text-anchor="middle">2.5</text>
<text x="350.01" y="234.5" font-size="11.8" text-anchor="middle">3</text>
<text x="392.30" y="234.5" font-size="11.8" text-anchor="middle">3.5</text>
<text x="244.3" y="249.6" font-size="12.8" text-anchor="middle" style="stroke-width:0.12px">time (ps)</text>
<g transform="translate(55.6,150.9) rotate(-90)"><text x="0" y="0" font-size="13.2" text-anchor="middle" style="stroke-width:0.12px">relative population</text></g>
<g transform="translate(69.9,148.5) rotate(-90)"><text x="0" y="0" font-size="13.2" text-anchor="middle" style="stroke-width:0.12px">of ionization levels</text></g>
</g>
<rect x="107" y="0.9" width="270.3" height="27.7" fill="#fff" stroke="#d6d6d6" stroke-width="0.8"/>
<line x1="109.90" y1="8.45" x2="127.60" y2="8.45" stroke="#0072BD" stroke-width="1.3"/>
<text x="129.60" y="12.60" font-size="10.5" style="stroke-width:0.35px">n0</text>
<line x1="109.90" y1="21.50" x2="127.60" y2="21.50" stroke="#D95319" stroke-width="1.3"/>
<text x="129.60" y="25.60" font-size="10.5" style="stroke-width:0.35px">n<tspan style="font-family:IPAGothic, 'Liberation Sans', sans-serif;font-size:0.95em;letter-spacing:0.085em">1</tspan></text>
<line x1="146.90" y1="8.45" x2="164.60" y2="8.45" stroke="#EDB120" stroke-width="1.3"/>
<text x="166.60" y="12.60" font-size="10.5" style="stroke-width:0.35px">n2</text>
<line x1="146.90" y1="21.50" x2="164.60" y2="21.50" stroke="#7E2F8E" stroke-width="1.3"/>
<text x="166.60" y="25.60" font-size="10.5" style="stroke-width:0.35px">n3</text>
<line x1="183.60" y1="8.45" x2="201.30" y2="8.45" stroke="#77AC30" stroke-width="1.3"/>
<text x="203.30" y="12.60" font-size="10.5" style="stroke-width:0.35px">n4</text>
<line x1="183.60" y1="21.50" x2="201.30" y2="21.50" stroke="#4DBEEE" stroke-width="1.3"/>
<text x="203.30" y="25.60" font-size="10.5" style="stroke-width:0.35px">n5</text>
<line x1="220.40" y1="8.45" x2="238.10" y2="8.45" stroke="#A2142F" stroke-width="1.3"/>
<text x="240.10" y="12.60" font-size="10.5" style="stroke-width:0.35px">n6</text>
<line x1="220.40" y1="21.50" x2="238.10" y2="21.50" stroke="#0072BD" stroke-width="1.3"/>
<text x="240.10" y="25.60" font-size="10.5" style="stroke-width:0.35px">n7</text>
<line x1="257.10" y1="8.45" x2="274.80" y2="8.45" stroke="#D95319" stroke-width="1.3"/>
<text x="276.80" y="12.60" font-size="10.5" style="stroke-width:0.35px">n8</text>
<line x1="257.10" y1="21.50" x2="274.80" y2="21.50" stroke="#EDB120" stroke-width="1.3"/>
<text x="276.80" y="25.60" font-size="10.5" style="stroke-width:0.35px">n9</text>
<line x1="293.80" y1="8.45" x2="311.50" y2="8.45" stroke="#7E2F8E" stroke-width="1.3"/>
<text x="313.50" y="12.60" font-size="10.5" style="stroke-width:0.35px">n<tspan style="font-family:IPAGothic, 'Liberation Sans', sans-serif;font-size:0.95em;letter-spacing:0.085em">1</tspan>0</text>
<line x1="293.80" y1="21.50" x2="311.50" y2="21.50" stroke="#77AC30" stroke-width="1.3"/>
<text x="313.50" y="25.60" font-size="10.5" style="stroke-width:0.35px">n<tspan style="font-family:IPAGothic, 'Liberation Sans', sans-serif;font-size:0.95em;letter-spacing:0.085em">1</tspan><tspan style="font-family:IPAGothic, 'Liberation Sans', sans-serif;font-size:0.95em;letter-spacing:0.085em">1</tspan></text>
<line x1="336.80" y1="8.45" x2="354.50" y2="8.45" stroke="#4DBEEE" stroke-width="1.3"/>
<text x="356.50" y="12.60" font-size="10.5" style="stroke-width:0.35px">n<tspan style="font-family:IPAGothic, 'Liberation Sans', sans-serif;font-size:0.95em;letter-spacing:0.085em">1</tspan>2</text>
<line x1="336.80" y1="21.50" x2="354.50" y2="21.50" stroke="#A2142F" stroke-width="1.3"/>
<text x="356.50" y="25.60" font-size="10.5" style="stroke-width:0.35px">n<tspan style="font-family:IPAGothic, 'Liberation Sans', sans-serif;font-size:0.95em;letter-spacing:0.085em">1</tspan>3</text>
</svg></body></html>
